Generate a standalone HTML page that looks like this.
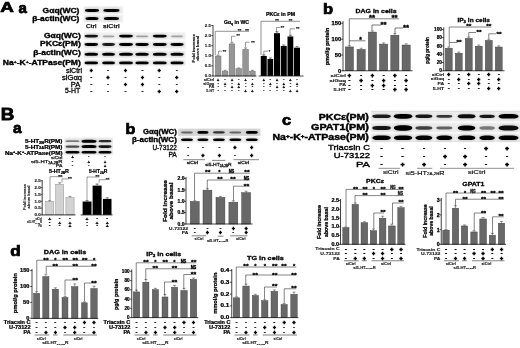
<!DOCTYPE html>
<html lang="en"><head><meta charset="utf-8"><title>Figure</title>
<style>html,body{margin:0;padding:0;background:#fff;overflow:hidden}svg{display:block}text{font-family:"Liberation Sans", sans-serif}</style>
</head><body>
<svg width="520" height="348" viewBox="0 0 520 348" style="font-family:'Liberation Sans', sans-serif">
<defs><filter id="bl" x="-20%" y="-60%" width="140%" height="220%"><feGaussianBlur stdDeviation="0.55"/></filter><filter id="bl2" x="-20%" y="-80%" width="140%" height="260%"><feGaussianBlur stdDeviation="0.9"/></filter><filter id="soft" x="0" y="0" width="100%" height="100%"><feGaussianBlur stdDeviation="0.5"/></filter></defs>
<rect x="0" y="0" width="520" height="348" fill="#fff"/>
<g filter="url(#soft)">
<text x="0.3" y="12.4" font-size="14.8" font-weight="bold" text-anchor="start" fill="#000" stroke="#000" stroke-width="0.74" textLength="13.6" lengthAdjust="spacingAndGlyphs">A</text>
<text x="18.4" y="13.2" font-size="15" font-weight="bold" text-anchor="start" fill="#000" stroke="#000" stroke-width="0.75">a</text>
<rect x="83.80" y="6.20" width="39.40" height="16.20" fill="#efefef"/>
<rect x="83.80" y="13.40" width="39.40" height="2.00" fill="#f9f9f9"/>
<text x="79.4" y="13.0" font-size="6.4" font-weight="bold" text-anchor="end" fill="#000" stroke="#000" stroke-width="0.32" textLength="36.8" lengthAdjust="spacingAndGlyphs">Gαq(WC)</text>
<text x="79.4" y="21.2" font-size="6.4" font-weight="bold" text-anchor="end" fill="#000" stroke="#000" stroke-width="0.32" textLength="47.2" lengthAdjust="spacingAndGlyphs">β-actin(WC)</text>
<rect x="84.40" y="8.30" width="15.20" height="4.30" rx="4.06" ry="2.15" fill="#444" opacity="0.22" filter="url(#bl2)"/>
<rect x="85.00" y="9.00" width="14.00" height="2.90" rx="3.77" ry="1.45" fill="#050505" opacity="1.0" filter="url(#bl)"/>
<rect x="84.90" y="16.30" width="14.20" height="4.40" rx="4.20" ry="2.20" fill="#444" opacity="0.22" filter="url(#bl2)"/>
<rect x="85.50" y="17.00" width="13.00" height="3.00" rx="3.90" ry="1.50" fill="#050505" opacity="1.0" filter="url(#bl)"/>
<rect x="102.80" y="8.30" width="17.30" height="4.30" rx="4.06" ry="2.15" fill="#444" opacity="0.22" filter="url(#bl2)"/>
<rect x="103.40" y="9.00" width="16.10" height="2.90" rx="3.77" ry="1.45" fill="#050505" opacity="1.0" filter="url(#bl)"/>
<rect x="103.30" y="16.30" width="16.30" height="4.40" rx="4.20" ry="2.20" fill="#444" opacity="0.22" filter="url(#bl2)"/>
<rect x="103.90" y="17.00" width="15.10" height="3.00" rx="3.90" ry="1.50" fill="#050505" opacity="1.0" filter="url(#bl)"/>
<text x="91.2" y="27.6" font-size="5.8" text-anchor="middle" fill="#000" stroke="#000" stroke-width="0.25" textLength="10.5" lengthAdjust="spacingAndGlyphs">Ctrl</text>
<text x="111.3" y="27.6" font-size="5.8" text-anchor="middle" fill="#000" stroke="#000" stroke-width="0.25" textLength="16.5" lengthAdjust="spacingAndGlyphs">siCtrl</text>
<rect x="83.80" y="32.40" width="101.80" height="33.00" fill="#f1f1f1"/>
<rect x="83.80" y="39.40" width="101.80" height="2.40" fill="#fafafa"/>
<rect x="83.80" y="48.40" width="101.80" height="2.40" fill="#fafafa"/>
<rect x="83.80" y="57.80" width="101.80" height="2.40" fill="#fafafa"/>
<rect x="84.00" y="34.10" width="14.60" height="4.00" rx="3.64" ry="2.00" fill="#444" opacity="0.20" filter="url(#bl2)"/>
<rect x="84.60" y="34.80" width="13.40" height="2.60" rx="3.38" ry="1.30" fill="#050505" opacity="0.9" filter="url(#bl)"/>
<rect x="84.00" y="42.40" width="14.60" height="4.20" rx="3.92" ry="2.10" fill="#444" opacity="0.22" filter="url(#bl2)"/>
<rect x="84.60" y="43.10" width="13.40" height="2.80" rx="3.64" ry="1.40" fill="#050505" opacity="1" filter="url(#bl)"/>
<rect x="84.00" y="52.10" width="14.60" height="4.40" rx="4.20" ry="2.20" fill="#444" opacity="0.22" filter="url(#bl2)"/>
<rect x="84.60" y="52.80" width="13.40" height="3.00" rx="3.90" ry="1.50" fill="#050505" opacity="1.0" filter="url(#bl)"/>
<rect x="84.00" y="60.90" width="14.60" height="4.00" rx="3.64" ry="2.00" fill="#444" opacity="0.22" filter="url(#bl2)"/>
<rect x="84.60" y="61.60" width="13.40" height="2.60" rx="3.38" ry="1.30" fill="#050505" opacity="1.0" filter="url(#bl)"/>
<rect x="102.10" y="34.90" width="12.90" height="3.00" rx="2.24" ry="1.50" fill="#444" opacity="0.07" filter="url(#bl2)"/>
<rect x="102.70" y="35.60" width="11.70" height="1.60" rx="2.08" ry="0.80" fill="#050505" opacity="0.3" filter="url(#bl)"/>
<rect x="101.60" y="42.40" width="13.90" height="4.20" rx="3.92" ry="2.10" fill="#444" opacity="0.19" filter="url(#bl2)"/>
<rect x="102.20" y="43.10" width="12.70" height="2.80" rx="3.64" ry="1.40" fill="#050505" opacity="0.85" filter="url(#bl)"/>
<rect x="101.60" y="52.10" width="13.90" height="4.40" rx="4.20" ry="2.20" fill="#444" opacity="0.22" filter="url(#bl2)"/>
<rect x="102.20" y="52.80" width="12.70" height="3.00" rx="3.90" ry="1.50" fill="#050505" opacity="1.0" filter="url(#bl)"/>
<rect x="101.60" y="60.90" width="13.90" height="4.00" rx="3.64" ry="2.00" fill="#444" opacity="0.22" filter="url(#bl2)"/>
<rect x="102.20" y="61.60" width="12.70" height="2.60" rx="3.38" ry="1.30" fill="#050505" opacity="1.0" filter="url(#bl)"/>
<rect x="118.50" y="34.10" width="15.00" height="4.00" rx="3.64" ry="2.00" fill="#444" opacity="0.22" filter="url(#bl2)"/>
<rect x="119.10" y="34.80" width="13.80" height="2.60" rx="3.38" ry="1.30" fill="#050505" opacity="1.0" filter="url(#bl)"/>
<rect x="118.50" y="42.40" width="15.00" height="4.20" rx="3.92" ry="2.10" fill="#444" opacity="0.22" filter="url(#bl2)"/>
<rect x="119.10" y="43.10" width="13.80" height="2.80" rx="3.64" ry="1.40" fill="#050505" opacity="1" filter="url(#bl)"/>
<rect x="118.50" y="52.10" width="15.00" height="4.40" rx="4.20" ry="2.20" fill="#444" opacity="0.22" filter="url(#bl2)"/>
<rect x="119.10" y="52.80" width="13.80" height="3.00" rx="3.90" ry="1.50" fill="#050505" opacity="1.0" filter="url(#bl)"/>
<rect x="118.50" y="60.90" width="15.00" height="4.00" rx="3.64" ry="2.00" fill="#444" opacity="0.22" filter="url(#bl2)"/>
<rect x="119.10" y="61.60" width="13.80" height="2.60" rx="3.38" ry="1.30" fill="#050505" opacity="1.0" filter="url(#bl)"/>
<rect x="135.30" y="34.90" width="13.50" height="3.00" rx="2.24" ry="1.50" fill="#444" opacity="0.07" filter="url(#bl2)"/>
<rect x="135.90" y="35.60" width="12.30" height="1.60" rx="2.08" ry="0.80" fill="#050505" opacity="0.3" filter="url(#bl)"/>
<rect x="134.80" y="42.40" width="14.50" height="4.20" rx="3.92" ry="2.10" fill="#444" opacity="0.22" filter="url(#bl2)"/>
<rect x="135.40" y="43.10" width="13.30" height="2.80" rx="3.64" ry="1.40" fill="#050505" opacity="1" filter="url(#bl)"/>
<rect x="134.80" y="52.10" width="14.50" height="4.40" rx="4.20" ry="2.20" fill="#444" opacity="0.22" filter="url(#bl2)"/>
<rect x="135.40" y="52.80" width="13.30" height="3.00" rx="3.90" ry="1.50" fill="#050505" opacity="1.0" filter="url(#bl)"/>
<rect x="134.80" y="60.90" width="14.50" height="4.00" rx="3.64" ry="2.00" fill="#444" opacity="0.22" filter="url(#bl2)"/>
<rect x="135.40" y="61.60" width="13.30" height="2.60" rx="3.38" ry="1.30" fill="#050505" opacity="1.0" filter="url(#bl)"/>
<rect x="152.30" y="34.10" width="15.00" height="4.00" rx="3.64" ry="2.00" fill="#444" opacity="0.22" filter="url(#bl2)"/>
<rect x="152.90" y="34.80" width="13.80" height="2.60" rx="3.38" ry="1.30" fill="#050505" opacity="1.0" filter="url(#bl)"/>
<rect x="152.30" y="42.40" width="15.00" height="4.20" rx="3.92" ry="2.10" fill="#444" opacity="0.22" filter="url(#bl2)"/>
<rect x="152.90" y="43.10" width="13.80" height="2.80" rx="3.64" ry="1.40" fill="#050505" opacity="1" filter="url(#bl)"/>
<rect x="152.30" y="52.10" width="15.00" height="4.40" rx="4.20" ry="2.20" fill="#444" opacity="0.22" filter="url(#bl2)"/>
<rect x="152.90" y="52.80" width="13.80" height="3.00" rx="3.90" ry="1.50" fill="#050505" opacity="1.0" filter="url(#bl)"/>
<rect x="152.30" y="60.90" width="15.00" height="4.00" rx="3.64" ry="2.00" fill="#444" opacity="0.22" filter="url(#bl2)"/>
<rect x="152.90" y="61.60" width="13.80" height="2.60" rx="3.38" ry="1.30" fill="#050505" opacity="1.0" filter="url(#bl)"/>
<rect x="170.40" y="34.90" width="13.30" height="3.00" rx="2.24" ry="1.50" fill="#444" opacity="0.07" filter="url(#bl2)"/>
<rect x="171.00" y="35.60" width="12.10" height="1.60" rx="2.08" ry="0.80" fill="#050505" opacity="0.3" filter="url(#bl)"/>
<rect x="169.90" y="42.40" width="14.30" height="4.20" rx="3.92" ry="2.10" fill="#444" opacity="0.22" filter="url(#bl2)"/>
<rect x="170.50" y="43.10" width="13.10" height="2.80" rx="3.64" ry="1.40" fill="#050505" opacity="1" filter="url(#bl)"/>
<rect x="169.90" y="52.10" width="14.30" height="4.40" rx="4.20" ry="2.20" fill="#444" opacity="0.22" filter="url(#bl2)"/>
<rect x="170.50" y="52.80" width="13.10" height="3.00" rx="3.90" ry="1.50" fill="#050505" opacity="1.0" filter="url(#bl)"/>
<rect x="169.90" y="60.90" width="14.30" height="4.00" rx="3.64" ry="2.00" fill="#444" opacity="0.22" filter="url(#bl2)"/>
<rect x="170.50" y="61.60" width="13.10" height="2.60" rx="3.38" ry="1.30" fill="#050505" opacity="1.0" filter="url(#bl)"/>
<text x="80.8" y="37.7" font-size="6.4" font-weight="bold" text-anchor="end" fill="#000" stroke="#000" stroke-width="0.32" textLength="36.8" lengthAdjust="spacingAndGlyphs">Gαq(WC)</text>
<text x="80.8" y="46.4" font-size="6.4" font-weight="bold" text-anchor="end" fill="#000" stroke="#000" stroke-width="0.32" textLength="40.8" lengthAdjust="spacingAndGlyphs">PKCε(PM)</text>
<text x="80.8" y="55.2" font-size="6.4" font-weight="bold" text-anchor="end" fill="#000" stroke="#000" stroke-width="0.32" textLength="47.6" lengthAdjust="spacingAndGlyphs">β-actin(WC)</text>
<text x="80.8" y="64.6" font-size="6.4" font-weight="bold" text-anchor="end" fill="#000" stroke="#000" stroke-width="0.32" textLength="78" lengthAdjust="spacingAndGlyphs">Na<tspan font-size="60%" dy="-0.45em">+</tspan><tspan dy="0.27em">-K</tspan><tspan font-size="60%" dy="-0.45em">+</tspan><tspan dy="0.27em">-ATPase(PM)</tspan></text>
<text x="82" y="72.9" font-size="6.6" text-anchor="end" fill="#000" stroke="#000" stroke-width="0.28" textLength="16" lengthAdjust="spacingAndGlyphs">siCtrl</text>
<text x="91.25" y="72.25" font-size="5.0" font-weight="bold" text-anchor="middle" fill="#000" stroke="#000" stroke-width="0.70">+</text>
<text x="108" y="72.25" font-size="6.2" font-weight="bold" text-anchor="middle" fill="#000" stroke="#000" stroke-width="0.19">-</text>
<text x="125.5" y="72.25" font-size="5.0" font-weight="bold" text-anchor="middle" fill="#000" stroke="#000" stroke-width="0.70">+</text>
<text x="142.5" y="72.25" font-size="6.2" font-weight="bold" text-anchor="middle" fill="#000" stroke="#000" stroke-width="0.19">-</text>
<text x="159.25" y="72.25" font-size="5.0" font-weight="bold" text-anchor="middle" fill="#000" stroke="#000" stroke-width="0.70">+</text>
<text x="176.75" y="72.25" font-size="6.2" font-weight="bold" text-anchor="middle" fill="#000" stroke="#000" stroke-width="0.19">-</text>
<text x="82" y="79.60000000000001" font-size="6.6" text-anchor="end" fill="#000" stroke="#000" stroke-width="0.28" textLength="20" lengthAdjust="spacingAndGlyphs">siGαq</text>
<text x="91.25" y="78.95" font-size="6.2" font-weight="bold" text-anchor="middle" fill="#000" stroke="#000" stroke-width="0.19">-</text>
<text x="108" y="78.95" font-size="5.0" font-weight="bold" text-anchor="middle" fill="#000" stroke="#000" stroke-width="0.70">+</text>
<text x="125.5" y="78.95" font-size="6.2" font-weight="bold" text-anchor="middle" fill="#000" stroke="#000" stroke-width="0.19">-</text>
<text x="142.5" y="78.95" font-size="5.0" font-weight="bold" text-anchor="middle" fill="#000" stroke="#000" stroke-width="0.70">+</text>
<text x="159.25" y="78.95" font-size="6.2" font-weight="bold" text-anchor="middle" fill="#000" stroke="#000" stroke-width="0.19">-</text>
<text x="176.75" y="78.95" font-size="5.0" font-weight="bold" text-anchor="middle" fill="#000" stroke="#000" stroke-width="0.70">+</text>
<text x="80.2" y="86.5" font-size="6.6" text-anchor="end" fill="#000" stroke="#000" stroke-width="0.28" textLength="9.5" lengthAdjust="spacingAndGlyphs">PA</text>
<text x="91.25" y="85.85" font-size="6.2" font-weight="bold" text-anchor="middle" fill="#000" stroke="#000" stroke-width="0.19">-</text>
<text x="108" y="85.85" font-size="6.2" font-weight="bold" text-anchor="middle" fill="#000" stroke="#000" stroke-width="0.19">-</text>
<text x="125.5" y="85.85" font-size="5.0" font-weight="bold" text-anchor="middle" fill="#000" stroke="#000" stroke-width="0.70">+</text>
<text x="142.5" y="85.85" font-size="5.0" font-weight="bold" text-anchor="middle" fill="#000" stroke="#000" stroke-width="0.70">+</text>
<text x="159.25" y="85.85" font-size="6.2" font-weight="bold" text-anchor="middle" fill="#000" stroke="#000" stroke-width="0.19">-</text>
<text x="176.75" y="85.85" font-size="6.2" font-weight="bold" text-anchor="middle" fill="#000" stroke="#000" stroke-width="0.19">-</text>
<text x="80.2" y="93.4" font-size="6.6" text-anchor="end" fill="#000" stroke="#000" stroke-width="0.28" textLength="15.3" lengthAdjust="spacingAndGlyphs">5-HT</text>
<text x="91.25" y="92.75" font-size="6.2" font-weight="bold" text-anchor="middle" fill="#000" stroke="#000" stroke-width="0.19">-</text>
<text x="108" y="92.75" font-size="6.2" font-weight="bold" text-anchor="middle" fill="#000" stroke="#000" stroke-width="0.19">-</text>
<text x="125.5" y="92.75" font-size="6.2" font-weight="bold" text-anchor="middle" fill="#000" stroke="#000" stroke-width="0.19">-</text>
<text x="142.5" y="92.75" font-size="6.2" font-weight="bold" text-anchor="middle" fill="#000" stroke="#000" stroke-width="0.19">-</text>
<text x="159.25" y="92.75" font-size="5.0" font-weight="bold" text-anchor="middle" fill="#000" stroke="#000" stroke-width="0.70">+</text>
<text x="176.75" y="92.75" font-size="5.0" font-weight="bold" text-anchor="middle" fill="#000" stroke="#000" stroke-width="0.70">+</text>
<rect x="215.30" y="56.00" width="5.70" height="20.00" fill="#969696" stroke="#6a6a6a" stroke-width="0.45"/>
<line x1="218.15" y1="55.8" x2="218.15" y2="55.0" stroke="#333" stroke-width="0.5"/>
<line x1="216.65" y1="55.0" x2="219.65" y2="55.0" stroke="#333" stroke-width="0.5"/>
<rect x="222.20" y="71.15" width="5.70" height="4.85" fill="#969696" stroke="#6a6a6a" stroke-width="0.45"/>
<line x1="225.05" y1="70.95" x2="225.05" y2="70.35000000000001" stroke="#333" stroke-width="0.5"/>
<line x1="223.55" y1="70.35000000000001" x2="226.55" y2="70.35000000000001" stroke="#333" stroke-width="0.5"/>
<rect x="229.10" y="43.88" width="5.70" height="32.12" fill="#969696" stroke="#6a6a6a" stroke-width="0.45"/>
<line x1="231.95" y1="43.68" x2="231.95" y2="42.28" stroke="#333" stroke-width="0.5"/>
<line x1="230.45" y1="42.28" x2="233.45" y2="42.28" stroke="#333" stroke-width="0.5"/>
<rect x="235.90" y="68.73" width="5.70" height="7.27" fill="#969696" stroke="#6a6a6a" stroke-width="0.45"/>
<line x1="238.75" y1="68.526" x2="238.75" y2="67.926" stroke="#333" stroke-width="0.5"/>
<line x1="237.25" y1="67.926" x2="240.25" y2="67.926" stroke="#333" stroke-width="0.5"/>
<rect x="242.80" y="49.33" width="5.70" height="26.67" fill="#969696" stroke="#6a6a6a" stroke-width="0.45"/>
<line x1="245.65" y1="49.134" x2="245.65" y2="47.934" stroke="#333" stroke-width="0.5"/>
<line x1="244.15" y1="47.934" x2="247.15" y2="47.934" stroke="#333" stroke-width="0.5"/>
<rect x="249.60" y="71.15" width="5.60" height="4.85" fill="#969696" stroke="#6a6a6a" stroke-width="0.45"/>
<line x1="252.4" y1="70.95" x2="252.4" y2="70.35000000000001" stroke="#333" stroke-width="0.5"/>
<line x1="250.9" y1="70.35000000000001" x2="253.9" y2="70.35000000000001" stroke="#333" stroke-width="0.5"/>
<line x1="213" y1="25" x2="213" y2="76.3" stroke="#111" stroke-width="0.8"/>
<line x1="211.2" y1="25.5" x2="213" y2="25.5" stroke="#111" stroke-width="0.7"/>
<text x="210.8" y="26.868" font-size="3.8" font-weight="bold" text-anchor="end" fill="#1c1c1c" stroke="#1c1c1c" stroke-width="0.13" textLength="6.0" lengthAdjust="spacingAndGlyphs">2.5</text>
<line x1="211.2" y1="35.6" x2="213" y2="35.6" stroke="#111" stroke-width="0.7"/>
<text x="210.8" y="36.968" font-size="3.8" font-weight="bold" text-anchor="end" fill="#1c1c1c" stroke="#1c1c1c" stroke-width="0.13" textLength="6.0" lengthAdjust="spacingAndGlyphs">2.0</text>
<line x1="211.2" y1="45.7" x2="213" y2="45.7" stroke="#111" stroke-width="0.7"/>
<text x="210.8" y="47.068000000000005" font-size="3.8" font-weight="bold" text-anchor="end" fill="#1c1c1c" stroke="#1c1c1c" stroke-width="0.13" textLength="6.0" lengthAdjust="spacingAndGlyphs">1.5</text>
<line x1="211.2" y1="55.8" x2="213" y2="55.8" stroke="#111" stroke-width="0.7"/>
<text x="210.8" y="57.168" font-size="3.8" font-weight="bold" text-anchor="end" fill="#1c1c1c" stroke="#1c1c1c" stroke-width="0.13" textLength="6.0" lengthAdjust="spacingAndGlyphs">1.0</text>
<line x1="211.2" y1="65.9" x2="213" y2="65.9" stroke="#111" stroke-width="0.7"/>
<text x="210.8" y="67.268" font-size="3.8" font-weight="bold" text-anchor="end" fill="#1c1c1c" stroke="#1c1c1c" stroke-width="0.13" textLength="6.0" lengthAdjust="spacingAndGlyphs">0.5</text>
<line x1="211.2" y1="76" x2="213" y2="76" stroke="#111" stroke-width="0.7"/>
<text x="210.8" y="77.368" font-size="3.8" font-weight="bold" text-anchor="end" fill="#1c1c1c" stroke="#1c1c1c" stroke-width="0.13" textLength="6.0" lengthAdjust="spacingAndGlyphs">0.0</text>
<line x1="212.6" y1="76.0" x2="256.5" y2="76.0" stroke="#111" stroke-width="0.8"/>
<text x="236.5" y="24.3" font-size="4.6" font-weight="bold" text-anchor="middle" fill="#000" stroke="#000" stroke-width="0.23" textLength="25" lengthAdjust="spacingAndGlyphs">Gα<tspan font-size="65%" dy="0.25em">q</tspan><tspan dy="-0.16em"> in WC</tspan></text>
<text x="195.4" y="48.3" font-size="4.2" font-weight="bold" text-anchor="middle" fill="#1c1c1c" stroke="#1c1c1c" stroke-width="0.15" textLength="28.5" lengthAdjust="spacingAndGlyphs" transform="rotate(-90 195.4 48.3)">Fold increase</text>
<text x="199.4" y="48.3" font-size="4.2" font-weight="bold" text-anchor="middle" fill="#1c1c1c" stroke="#1c1c1c" stroke-width="0.15" textLength="25" lengthAdjust="spacingAndGlyphs" transform="rotate(-90 199.4 48.3)">above basal</text>
<polyline points="215.2,55 215.2,31.3 249,31.3" fill="none" stroke="#222" stroke-width="0.5"/>
<text x="239.5" y="32.0572" font-size="3.96" font-weight="bold" text-anchor="middle" fill="#1c1c1c" stroke="#1c1c1c" stroke-width="0.20" textLength="3.6432" lengthAdjust="spacingAndGlyphs">**</text>
<text x="247" y="32.0572" font-size="3.96" font-weight="bold" text-anchor="middle" fill="#1c1c1c" stroke="#1c1c1c" stroke-width="0.20" textLength="3.6432" lengthAdjust="spacingAndGlyphs">**</text>
<polyline points="218.5,54 218.5,51.2 222,51.2" fill="none" stroke="#222" stroke-width="0.45"/>
<text x="224.5" y="52.706720000000004" font-size="3.6959999999999997" font-weight="bold" text-anchor="middle" fill="#1c1c1c" stroke="#1c1c1c" stroke-width="0.18" textLength="3.40032" lengthAdjust="spacingAndGlyphs">**</text>
<polyline points="231.5,41.5 231.5,36.3 235.5,36.3" fill="none" stroke="#222" stroke-width="0.45"/>
<text x="238.2" y="37.306720000000006" font-size="3.6959999999999997" font-weight="bold" text-anchor="middle" fill="#1c1c1c" stroke="#1c1c1c" stroke-width="0.18" textLength="3.40032" lengthAdjust="spacingAndGlyphs">**</text>
<polyline points="245.5,47.2 245.5,42.2 249.5,42.2" fill="none" stroke="#222" stroke-width="0.45"/>
<text x="253" y="43.50672" font-size="3.6959999999999997" font-weight="bold" text-anchor="middle" fill="#1c1c1c" stroke="#1c1c1c" stroke-width="0.18" textLength="3.40032" lengthAdjust="spacingAndGlyphs">**</text>
<text x="214.2" y="80.8" font-size="3.4" font-weight="bold" text-anchor="end" fill="#1c1c1c" stroke="#1c1c1c" stroke-width="0.12" textLength="10.5" lengthAdjust="spacingAndGlyphs">siCtrl</text>
<text x="218.15" y="80.82375" font-size="3.625" font-weight="bold" text-anchor="middle" fill="#1c1c1c" stroke="#1c1c1c" stroke-width="0.51">+</text>
<text x="225.05" y="80.82375" font-size="4.495" font-weight="bold" text-anchor="middle" fill="#1c1c1c" stroke="#1c1c1c" stroke-width="0.13">-</text>
<text x="231.95" y="80.82375" font-size="3.625" font-weight="bold" text-anchor="middle" fill="#1c1c1c" stroke="#1c1c1c" stroke-width="0.51">+</text>
<text x="238.75" y="80.82375" font-size="4.495" font-weight="bold" text-anchor="middle" fill="#1c1c1c" stroke="#1c1c1c" stroke-width="0.13">-</text>
<text x="245.65" y="80.82375" font-size="3.625" font-weight="bold" text-anchor="middle" fill="#1c1c1c" stroke="#1c1c1c" stroke-width="0.51">+</text>
<text x="252.4" y="80.82375" font-size="4.495" font-weight="bold" text-anchor="middle" fill="#1c1c1c" stroke="#1c1c1c" stroke-width="0.13">-</text>
<text x="214.2" y="84.6" font-size="3.4" font-weight="bold" text-anchor="end" fill="#1c1c1c" stroke="#1c1c1c" stroke-width="0.12" textLength="11" lengthAdjust="spacingAndGlyphs">siGαq</text>
<text x="218.15" y="84.62375" font-size="4.495" font-weight="bold" text-anchor="middle" fill="#1c1c1c" stroke="#1c1c1c" stroke-width="0.13">-</text>
<text x="225.05" y="84.62375" font-size="3.625" font-weight="bold" text-anchor="middle" fill="#1c1c1c" stroke="#1c1c1c" stroke-width="0.51">+</text>
<text x="231.95" y="84.62375" font-size="4.495" font-weight="bold" text-anchor="middle" fill="#1c1c1c" stroke="#1c1c1c" stroke-width="0.13">-</text>
<text x="238.75" y="84.62375" font-size="3.625" font-weight="bold" text-anchor="middle" fill="#1c1c1c" stroke="#1c1c1c" stroke-width="0.51">+</text>
<text x="245.65" y="84.62375" font-size="4.495" font-weight="bold" text-anchor="middle" fill="#1c1c1c" stroke="#1c1c1c" stroke-width="0.13">-</text>
<text x="252.4" y="84.62375" font-size="3.625" font-weight="bold" text-anchor="middle" fill="#1c1c1c" stroke="#1c1c1c" stroke-width="0.51">+</text>
<text x="214.2" y="88.3" font-size="3.4" font-weight="bold" text-anchor="end" fill="#1c1c1c" stroke="#1c1c1c" stroke-width="0.12" textLength="5.4" lengthAdjust="spacingAndGlyphs">PA</text>
<text x="218.15" y="88.32375" font-size="4.495" font-weight="bold" text-anchor="middle" fill="#1c1c1c" stroke="#1c1c1c" stroke-width="0.13">-</text>
<text x="225.05" y="88.32375" font-size="4.495" font-weight="bold" text-anchor="middle" fill="#1c1c1c" stroke="#1c1c1c" stroke-width="0.13">-</text>
<text x="231.95" y="88.32375" font-size="3.625" font-weight="bold" text-anchor="middle" fill="#1c1c1c" stroke="#1c1c1c" stroke-width="0.51">+</text>
<text x="238.75" y="88.32375" font-size="3.625" font-weight="bold" text-anchor="middle" fill="#1c1c1c" stroke="#1c1c1c" stroke-width="0.51">+</text>
<text x="245.65" y="88.32375" font-size="4.495" font-weight="bold" text-anchor="middle" fill="#1c1c1c" stroke="#1c1c1c" stroke-width="0.13">-</text>
<text x="252.4" y="88.32375" font-size="4.495" font-weight="bold" text-anchor="middle" fill="#1c1c1c" stroke="#1c1c1c" stroke-width="0.13">-</text>
<text x="214.2" y="92.0" font-size="3.4" font-weight="bold" text-anchor="end" fill="#1c1c1c" stroke="#1c1c1c" stroke-width="0.12" textLength="8" lengthAdjust="spacingAndGlyphs">5-HT</text>
<text x="218.15" y="92.02375" font-size="4.495" font-weight="bold" text-anchor="middle" fill="#1c1c1c" stroke="#1c1c1c" stroke-width="0.13">-</text>
<text x="225.05" y="92.02375" font-size="4.495" font-weight="bold" text-anchor="middle" fill="#1c1c1c" stroke="#1c1c1c" stroke-width="0.13">-</text>
<text x="231.95" y="92.02375" font-size="4.495" font-weight="bold" text-anchor="middle" fill="#1c1c1c" stroke="#1c1c1c" stroke-width="0.13">-</text>
<text x="238.75" y="92.02375" font-size="4.495" font-weight="bold" text-anchor="middle" fill="#1c1c1c" stroke="#1c1c1c" stroke-width="0.13">-</text>
<text x="245.65" y="92.02375" font-size="3.625" font-weight="bold" text-anchor="middle" fill="#1c1c1c" stroke="#1c1c1c" stroke-width="0.51">+</text>
<text x="252.4" y="92.02375" font-size="3.625" font-weight="bold" text-anchor="middle" fill="#1c1c1c" stroke="#1c1c1c" stroke-width="0.51">+</text>
<rect x="260.75" y="55.95" width="6.00" height="20.05" fill="#000"/>
<line x1="263.75" y1="55.75" x2="263.75" y2="54.95" stroke="#000" stroke-width="0.5"/>
<line x1="262.25" y1="54.95" x2="265.25" y2="54.95" stroke="#000" stroke-width="0.5"/>
<rect x="267.50" y="58.95" width="5.70" height="17.05" fill="#000"/>
<line x1="270.35" y1="58.75" x2="270.35" y2="57.95" stroke="#000" stroke-width="0.5"/>
<line x1="268.85" y1="57.95" x2="271.85" y2="57.95" stroke="#000" stroke-width="0.5"/>
<rect x="274.00" y="33.20" width="6.00" height="42.80" fill="#000"/>
<line x1="277.0" y1="33" x2="277.0" y2="31.8" stroke="#000" stroke-width="0.5"/>
<line x1="275.5" y1="31.8" x2="278.5" y2="31.8" stroke="#000" stroke-width="0.5"/>
<rect x="280.75" y="45.95" width="6.00" height="30.05" fill="#000"/>
<line x1="283.75" y1="45.75" x2="283.75" y2="44.95" stroke="#000" stroke-width="0.5"/>
<line x1="282.25" y1="44.95" x2="285.25" y2="44.95" stroke="#000" stroke-width="0.5"/>
<rect x="287.50" y="36.45" width="5.80" height="39.55" fill="#000"/>
<line x1="290.4" y1="36.25" x2="290.4" y2="35.25" stroke="#000" stroke-width="0.5"/>
<line x1="288.9" y1="35.25" x2="291.9" y2="35.25" stroke="#000" stroke-width="0.5"/>
<rect x="294.00" y="47.70" width="6.00" height="28.30" fill="#000"/>
<line x1="297.0" y1="47.5" x2="297.0" y2="46.7" stroke="#000" stroke-width="0.5"/>
<line x1="295.5" y1="46.7" x2="298.5" y2="46.7" stroke="#000" stroke-width="0.5"/>
<line x1="258.6" y1="76.0" x2="303.5" y2="76.0" stroke="#111" stroke-width="0.8"/>
<text x="280.5" y="16.4" font-size="4.8" font-weight="bold" text-anchor="middle" fill="#000" stroke="#000" stroke-width="0.24" textLength="29" lengthAdjust="spacingAndGlyphs">PKCε in PM</text>
<polyline points="261,55 261,21.3 300,21.3" fill="none" stroke="#222" stroke-width="0.5"/>
<text x="277" y="22.0572" font-size="3.96" font-weight="bold" text-anchor="middle" fill="#1c1c1c" stroke="#1c1c1c" stroke-width="0.20" textLength="3.6432" lengthAdjust="spacingAndGlyphs">**</text>
<text x="290.6" y="22.0572" font-size="3.96" font-weight="bold" text-anchor="middle" fill="#1c1c1c" stroke="#1c1c1c" stroke-width="0.20" textLength="3.6432" lengthAdjust="spacingAndGlyphs">**</text>
<polyline points="263.8,55 263.8,51.2 268,51.2" fill="none" stroke="#222" stroke-width="0.45"/>
<text x="269.5" y="52.50672" font-size="3.6959999999999997" font-weight="bold" text-anchor="middle" fill="#1c1c1c" stroke="#1c1c1c" stroke-width="0.18">*</text>
<polyline points="276.5,32 276.5,27.5 280.5,27.5" fill="none" stroke="#222" stroke-width="0.45"/>
<text x="282.5" y="28.506719999999998" font-size="3.6959999999999997" font-weight="bold" text-anchor="middle" fill="#1c1c1c" stroke="#1c1c1c" stroke-width="0.18" textLength="3.40032" lengthAdjust="spacingAndGlyphs">**</text>
<polyline points="290,35 290,28.8 295,28.8" fill="none" stroke="#222" stroke-width="0.45"/>
<text x="297.8" y="30.10672" font-size="3.6959999999999997" font-weight="bold" text-anchor="middle" fill="#1c1c1c" stroke="#1c1c1c" stroke-width="0.18" textLength="3.40032" lengthAdjust="spacingAndGlyphs">**</text>
<text x="263.75" y="80.82375" font-size="3.625" font-weight="bold" text-anchor="middle" fill="#1c1c1c" stroke="#1c1c1c" stroke-width="0.51">+</text>
<text x="270.35" y="80.82375" font-size="4.495" font-weight="bold" text-anchor="middle" fill="#1c1c1c" stroke="#1c1c1c" stroke-width="0.13">-</text>
<text x="277.0" y="80.82375" font-size="3.625" font-weight="bold" text-anchor="middle" fill="#1c1c1c" stroke="#1c1c1c" stroke-width="0.51">+</text>
<text x="283.75" y="80.82375" font-size="4.495" font-weight="bold" text-anchor="middle" fill="#1c1c1c" stroke="#1c1c1c" stroke-width="0.13">-</text>
<text x="290.4" y="80.82375" font-size="3.625" font-weight="bold" text-anchor="middle" fill="#1c1c1c" stroke="#1c1c1c" stroke-width="0.51">+</text>
<text x="297.0" y="80.82375" font-size="4.495" font-weight="bold" text-anchor="middle" fill="#1c1c1c" stroke="#1c1c1c" stroke-width="0.13">-</text>
<text x="263.75" y="84.62375" font-size="4.495" font-weight="bold" text-anchor="middle" fill="#1c1c1c" stroke="#1c1c1c" stroke-width="0.13">-</text>
<text x="270.35" y="84.62375" font-size="3.625" font-weight="bold" text-anchor="middle" fill="#1c1c1c" stroke="#1c1c1c" stroke-width="0.51">+</text>
<text x="277.0" y="84.62375" font-size="4.495" font-weight="bold" text-anchor="middle" fill="#1c1c1c" stroke="#1c1c1c" stroke-width="0.13">-</text>
<text x="283.75" y="84.62375" font-size="3.625" font-weight="bold" text-anchor="middle" fill="#1c1c1c" stroke="#1c1c1c" stroke-width="0.51">+</text>
<text x="290.4" y="84.62375" font-size="4.495" font-weight="bold" text-anchor="middle" fill="#1c1c1c" stroke="#1c1c1c" stroke-width="0.13">-</text>
<text x="297.0" y="84.62375" font-size="3.625" font-weight="bold" text-anchor="middle" fill="#1c1c1c" stroke="#1c1c1c" stroke-width="0.51">+</text>
<text x="263.75" y="88.32375" font-size="4.495" font-weight="bold" text-anchor="middle" fill="#1c1c1c" stroke="#1c1c1c" stroke-width="0.13">-</text>
<text x="270.35" y="88.32375" font-size="4.495" font-weight="bold" text-anchor="middle" fill="#1c1c1c" stroke="#1c1c1c" stroke-width="0.13">-</text>
<text x="277.0" y="88.32375" font-size="3.625" font-weight="bold" text-anchor="middle" fill="#1c1c1c" stroke="#1c1c1c" stroke-width="0.51">+</text>
<text x="283.75" y="88.32375" font-size="3.625" font-weight="bold" text-anchor="middle" fill="#1c1c1c" stroke="#1c1c1c" stroke-width="0.51">+</text>
<text x="290.4" y="88.32375" font-size="4.495" font-weight="bold" text-anchor="middle" fill="#1c1c1c" stroke="#1c1c1c" stroke-width="0.13">-</text>
<text x="297.0" y="88.32375" font-size="4.495" font-weight="bold" text-anchor="middle" fill="#1c1c1c" stroke="#1c1c1c" stroke-width="0.13">-</text>
<text x="263.75" y="92.02375" font-size="4.495" font-weight="bold" text-anchor="middle" fill="#1c1c1c" stroke="#1c1c1c" stroke-width="0.13">-</text>
<text x="270.35" y="92.02375" font-size="4.495" font-weight="bold" text-anchor="middle" fill="#1c1c1c" stroke="#1c1c1c" stroke-width="0.13">-</text>
<text x="277.0" y="92.02375" font-size="4.495" font-weight="bold" text-anchor="middle" fill="#1c1c1c" stroke="#1c1c1c" stroke-width="0.13">-</text>
<text x="283.75" y="92.02375" font-size="4.495" font-weight="bold" text-anchor="middle" fill="#1c1c1c" stroke="#1c1c1c" stroke-width="0.13">-</text>
<text x="290.4" y="92.02375" font-size="3.625" font-weight="bold" text-anchor="middle" fill="#1c1c1c" stroke="#1c1c1c" stroke-width="0.51">+</text>
<text x="297.0" y="92.02375" font-size="3.625" font-weight="bold" text-anchor="middle" fill="#1c1c1c" stroke="#1c1c1c" stroke-width="0.51">+</text>
<text x="322.9" y="14.2" font-size="13.8" font-weight="bold" text-anchor="start" fill="#000" stroke="#000" stroke-width="0.69" textLength="10.1" lengthAdjust="spacingAndGlyphs">b</text>
<rect x="345.30" y="46.93" width="8.15" height="23.82" fill="#686868" stroke="#3c3c3c" stroke-width="0.45"/>
<line x1="349.375" y1="46.733999999999995" x2="349.375" y2="45.733999999999995" stroke="#333" stroke-width="0.5"/>
<line x1="347.875" y1="45.733999999999995" x2="350.875" y2="45.733999999999995" stroke="#333" stroke-width="0.5"/>
<rect x="357.05" y="49.46" width="8.15" height="21.29" fill="#686868" stroke="#3c3c3c" stroke-width="0.45"/>
<line x1="361.125" y1="49.262" x2="361.125" y2="48.262" stroke="#333" stroke-width="0.5"/>
<line x1="359.625" y1="48.262" x2="362.625" y2="48.262" stroke="#333" stroke-width="0.5"/>
<rect x="368.30" y="32.08" width="8.15" height="38.67" fill="#686868" stroke="#3c3c3c" stroke-width="0.45"/>
<line x1="372.375" y1="31.881999999999998" x2="372.375" y2="30.881999999999998" stroke="#333" stroke-width="0.5"/>
<line x1="370.875" y1="30.881999999999998" x2="373.875" y2="30.881999999999998" stroke="#333" stroke-width="0.5"/>
<rect x="379.55" y="44.09" width="8.15" height="26.66" fill="#686868" stroke="#3c3c3c" stroke-width="0.45"/>
<line x1="383.625" y1="43.89" x2="383.625" y2="42.89" stroke="#333" stroke-width="0.5"/>
<line x1="382.125" y1="42.89" x2="385.125" y2="42.89" stroke="#333" stroke-width="0.5"/>
<rect x="390.80" y="35.24" width="8.15" height="35.51" fill="#686868" stroke="#3c3c3c" stroke-width="0.45"/>
<line x1="394.875" y1="35.042" x2="394.875" y2="33.642" stroke="#333" stroke-width="0.5"/>
<line x1="393.375" y1="33.642" x2="396.375" y2="33.642" stroke="#333" stroke-width="0.5"/>
<rect x="402.05" y="45.04" width="8.15" height="25.71" fill="#686868" stroke="#3c3c3c" stroke-width="0.45"/>
<line x1="406.125" y1="44.838" x2="406.125" y2="43.838" stroke="#333" stroke-width="0.5"/>
<line x1="404.625" y1="43.838" x2="407.625" y2="43.838" stroke="#333" stroke-width="0.5"/>
<line x1="343" y1="21" x2="343" y2="71.05" stroke="#111" stroke-width="0.8"/>
<line x1="341.2" y1="23.3" x2="343" y2="23.3" stroke="#111" stroke-width="0.7"/>
<text x="341.2" y="25.064" font-size="4.9" font-weight="bold" text-anchor="end" fill="#000" stroke="#000" stroke-width="0.25" textLength="9.6" lengthAdjust="spacingAndGlyphs">150</text>
<line x1="341.2" y1="39.2" x2="343" y2="39.2" stroke="#111" stroke-width="0.7"/>
<text x="341.2" y="40.964000000000006" font-size="4.9" font-weight="bold" text-anchor="end" fill="#000" stroke="#000" stroke-width="0.25" textLength="9.6" lengthAdjust="spacingAndGlyphs">100</text>
<line x1="341.2" y1="55" x2="343" y2="55" stroke="#111" stroke-width="0.7"/>
<text x="341.2" y="56.764" font-size="4.9" font-weight="bold" text-anchor="end" fill="#000" stroke="#000" stroke-width="0.25" textLength="6.3999999999999995" lengthAdjust="spacingAndGlyphs">50</text>
<line x1="341.2" y1="70.75" x2="343" y2="70.75" stroke="#111" stroke-width="0.7"/>
<text x="341.2" y="72.514" font-size="4.9" font-weight="bold" text-anchor="end" fill="#000" stroke="#000" stroke-width="0.25" textLength="3.1999999999999997" lengthAdjust="spacingAndGlyphs">0</text>
<line x1="342.6" y1="70.75" x2="412.5" y2="70.75" stroke="#111" stroke-width="0.8"/>
<text x="376" y="13.1" font-size="5.9" font-weight="bold" text-anchor="middle" fill="#000" stroke="#000" stroke-width="0.30" textLength="41" lengthAdjust="spacingAndGlyphs">DAG in cells</text>
<text x="329.2" y="46.3" font-size="5.0" font-weight="bold" text-anchor="middle" fill="#000" stroke="#000" stroke-width="0.25" textLength="37.5" lengthAdjust="spacingAndGlyphs" transform="rotate(-90 329.2 46.3)">pmol/g protein</text>
<polyline points="349.3,45.5 349.3,18.8 398.8,18.8" fill="none" stroke="#222" stroke-width="0.6"/>
<text x="372" y="20.162" font-size="6.6000000000000005" font-weight="bold" text-anchor="middle" fill="#000" stroke="#000" stroke-width="0.33" textLength="6.072000000000001" lengthAdjust="spacingAndGlyphs">**</text>
<text x="394.5" y="20.162" font-size="6.6000000000000005" font-weight="bold" text-anchor="middle" fill="#000" stroke="#000" stroke-width="0.33" textLength="6.072000000000001" lengthAdjust="spacingAndGlyphs">**</text>
<polyline points="349.3,40.8 365.5,40.8" fill="none" stroke="#222" stroke-width="0.6"/>
<text x="360.5" y="41.962" font-size="6.6000000000000005" font-weight="bold" text-anchor="middle" fill="#000" stroke="#000" stroke-width="0.33">*</text>
<polyline points="372,30.2 372,25 381,25" fill="none" stroke="#222" stroke-width="0.6"/>
<text x="383.5" y="26.562" font-size="6.6000000000000005" font-weight="bold" text-anchor="middle" fill="#000" stroke="#000" stroke-width="0.33" textLength="6.072000000000001" lengthAdjust="spacingAndGlyphs">**</text>
<polyline points="395,33.8 395,28 403,28" fill="none" stroke="#222" stroke-width="0.6"/>
<text x="406" y="29.762" font-size="6.6000000000000005" font-weight="bold" text-anchor="middle" fill="#000" stroke="#000" stroke-width="0.33" textLength="6.072000000000001" lengthAdjust="spacingAndGlyphs">**</text>
<text x="346" y="76.7" font-size="4.4" font-weight="bold" text-anchor="end" fill="#1c1c1c" stroke="#1c1c1c" stroke-width="0.15" textLength="15.4" lengthAdjust="spacingAndGlyphs">siCtrl</text>
<text x="349.375" y="76.905" font-size="5.5" font-weight="bold" text-anchor="middle" fill="#000" stroke="#000" stroke-width="0.77">+</text>
<text x="361.125" y="76.905" font-size="6.820000000000001" font-weight="bold" text-anchor="middle" fill="#000" stroke="#000" stroke-width="0.20">-</text>
<text x="372.375" y="76.905" font-size="5.5" font-weight="bold" text-anchor="middle" fill="#000" stroke="#000" stroke-width="0.77">+</text>
<text x="383.625" y="76.905" font-size="6.820000000000001" font-weight="bold" text-anchor="middle" fill="#000" stroke="#000" stroke-width="0.20">-</text>
<text x="394.875" y="76.905" font-size="5.5" font-weight="bold" text-anchor="middle" fill="#000" stroke="#000" stroke-width="0.77">+</text>
<text x="406.125" y="76.905" font-size="6.820000000000001" font-weight="bold" text-anchor="middle" fill="#000" stroke="#000" stroke-width="0.20">-</text>
<text x="346" y="81.7" font-size="4.4" font-weight="bold" text-anchor="end" fill="#1c1c1c" stroke="#1c1c1c" stroke-width="0.15" textLength="16.4" lengthAdjust="spacingAndGlyphs">siGαq</text>
<text x="349.375" y="81.905" font-size="6.820000000000001" font-weight="bold" text-anchor="middle" fill="#000" stroke="#000" stroke-width="0.20">-</text>
<text x="361.125" y="81.905" font-size="5.5" font-weight="bold" text-anchor="middle" fill="#000" stroke="#000" stroke-width="0.77">+</text>
<text x="372.375" y="81.905" font-size="6.820000000000001" font-weight="bold" text-anchor="middle" fill="#000" stroke="#000" stroke-width="0.20">-</text>
<text x="383.625" y="81.905" font-size="5.5" font-weight="bold" text-anchor="middle" fill="#000" stroke="#000" stroke-width="0.77">+</text>
<text x="394.875" y="81.905" font-size="6.820000000000001" font-weight="bold" text-anchor="middle" fill="#000" stroke="#000" stroke-width="0.20">-</text>
<text x="406.125" y="81.905" font-size="5.5" font-weight="bold" text-anchor="middle" fill="#000" stroke="#000" stroke-width="0.77">+</text>
<text x="346" y="86.4" font-size="4.4" font-weight="bold" text-anchor="end" fill="#1c1c1c" stroke="#1c1c1c" stroke-width="0.15" textLength="6.8" lengthAdjust="spacingAndGlyphs">PA</text>
<text x="349.375" y="86.605" font-size="6.820000000000001" font-weight="bold" text-anchor="middle" fill="#000" stroke="#000" stroke-width="0.20">-</text>
<text x="361.125" y="86.605" font-size="6.820000000000001" font-weight="bold" text-anchor="middle" fill="#000" stroke="#000" stroke-width="0.20">-</text>
<text x="372.375" y="86.605" font-size="5.5" font-weight="bold" text-anchor="middle" fill="#000" stroke="#000" stroke-width="0.77">+</text>
<text x="383.625" y="86.605" font-size="5.5" font-weight="bold" text-anchor="middle" fill="#000" stroke="#000" stroke-width="0.77">+</text>
<text x="394.875" y="86.605" font-size="6.820000000000001" font-weight="bold" text-anchor="middle" fill="#000" stroke="#000" stroke-width="0.20">-</text>
<text x="406.125" y="86.605" font-size="6.820000000000001" font-weight="bold" text-anchor="middle" fill="#000" stroke="#000" stroke-width="0.20">-</text>
<text x="346" y="91.1" font-size="4.4" font-weight="bold" text-anchor="end" fill="#1c1c1c" stroke="#1c1c1c" stroke-width="0.15" textLength="12.5" lengthAdjust="spacingAndGlyphs">5-HT</text>
<text x="349.375" y="91.30499999999999" font-size="6.820000000000001" font-weight="bold" text-anchor="middle" fill="#000" stroke="#000" stroke-width="0.20">-</text>
<text x="361.125" y="91.30499999999999" font-size="6.820000000000001" font-weight="bold" text-anchor="middle" fill="#000" stroke="#000" stroke-width="0.20">-</text>
<text x="372.375" y="91.30499999999999" font-size="6.820000000000001" font-weight="bold" text-anchor="middle" fill="#000" stroke="#000" stroke-width="0.20">-</text>
<text x="383.625" y="91.30499999999999" font-size="6.820000000000001" font-weight="bold" text-anchor="middle" fill="#000" stroke="#000" stroke-width="0.20">-</text>
<text x="394.875" y="91.30499999999999" font-size="5.5" font-weight="bold" text-anchor="middle" fill="#000" stroke="#000" stroke-width="0.77">+</text>
<text x="406.125" y="91.30499999999999" font-size="5.5" font-weight="bold" text-anchor="middle" fill="#000" stroke="#000" stroke-width="0.77">+</text>
<rect x="445.30" y="48.26" width="6.90" height="22.49" fill="#686868" stroke="#3c3c3c" stroke-width="0.45"/>
<line x1="448.75" y1="48.0625" x2="448.75" y2="47.0625" stroke="#333" stroke-width="0.5"/>
<line x1="447.25" y1="47.0625" x2="450.25" y2="47.0625" stroke="#333" stroke-width="0.5"/>
<rect x="455.30" y="53.21" width="6.90" height="17.54" fill="#686868" stroke="#3c3c3c" stroke-width="0.45"/>
<line x1="458.75" y1="53.0125" x2="458.75" y2="52.0125" stroke="#333" stroke-width="0.5"/>
<line x1="457.25" y1="52.0125" x2="460.25" y2="52.0125" stroke="#333" stroke-width="0.5"/>
<rect x="465.30" y="38.36" width="6.90" height="32.39" fill="#686868" stroke="#3c3c3c" stroke-width="0.45"/>
<line x1="468.75" y1="38.1625" x2="468.75" y2="37.1625" stroke="#333" stroke-width="0.5"/>
<line x1="467.25" y1="37.1625" x2="470.25" y2="37.1625" stroke="#333" stroke-width="0.5"/>
<rect x="475.30" y="46.20" width="6.90" height="24.55" fill="#686868" stroke="#3c3c3c" stroke-width="0.45"/>
<line x1="478.75" y1="46.0" x2="478.75" y2="45.0" stroke="#333" stroke-width="0.5"/>
<line x1="477.25" y1="45.0" x2="480.25" y2="45.0" stroke="#333" stroke-width="0.5"/>
<rect x="485.30" y="40.43" width="6.90" height="30.32" fill="#686868" stroke="#3c3c3c" stroke-width="0.45"/>
<line x1="488.75" y1="40.225" x2="488.75" y2="39.225" stroke="#333" stroke-width="0.5"/>
<line x1="487.25" y1="39.225" x2="490.25" y2="39.225" stroke="#333" stroke-width="0.5"/>
<rect x="495.30" y="47.03" width="6.90" height="23.72" fill="#686868" stroke="#3c3c3c" stroke-width="0.45"/>
<line x1="498.75" y1="46.825" x2="498.75" y2="45.825" stroke="#333" stroke-width="0.5"/>
<line x1="497.25" y1="45.825" x2="500.25" y2="45.825" stroke="#333" stroke-width="0.5"/>
<line x1="443.75" y1="27.5" x2="443.75" y2="71.05" stroke="#111" stroke-width="0.8"/>
<line x1="441.95" y1="29.5" x2="443.75" y2="29.5" stroke="#111" stroke-width="0.7"/>
<text x="442" y="31.228" font-size="4.8" font-weight="bold" text-anchor="end" fill="#000" stroke="#000" stroke-width="0.24">100</text>
<line x1="441.95" y1="37.6" x2="443.75" y2="37.6" stroke="#111" stroke-width="0.7"/>
<text x="442" y="39.328" font-size="4.8" font-weight="bold" text-anchor="end" fill="#000" stroke="#000" stroke-width="0.24">80</text>
<line x1="441.95" y1="45.9" x2="443.75" y2="45.9" stroke="#111" stroke-width="0.7"/>
<text x="442" y="47.628" font-size="4.8" font-weight="bold" text-anchor="end" fill="#000" stroke="#000" stroke-width="0.24">60</text>
<line x1="441.95" y1="54.2" x2="443.75" y2="54.2" stroke="#111" stroke-width="0.7"/>
<text x="442" y="55.928000000000004" font-size="4.8" font-weight="bold" text-anchor="end" fill="#000" stroke="#000" stroke-width="0.24">40</text>
<line x1="441.95" y1="62.5" x2="443.75" y2="62.5" stroke="#111" stroke-width="0.7"/>
<text x="442" y="64.228" font-size="4.8" font-weight="bold" text-anchor="end" fill="#000" stroke="#000" stroke-width="0.24">20</text>
<line x1="441.95" y1="70.75" x2="443.75" y2="70.75" stroke="#111" stroke-width="0.7"/>
<text x="442" y="72.478" font-size="4.8" font-weight="bold" text-anchor="end" fill="#000" stroke="#000" stroke-width="0.24">0</text>
<line x1="443.35" y1="70.75" x2="504.5" y2="70.75" stroke="#111" stroke-width="0.8"/>
<text x="473.7" y="22" font-size="5.2" font-weight="bold" text-anchor="middle" fill="#000" stroke="#000" stroke-width="0.26" textLength="32.5" lengthAdjust="spacingAndGlyphs">IP<tspan font-size="65%" dy="0.25em">3</tspan><tspan dy="-0.16em"> in cells</tspan></text>
<text x="429.2" y="50.4" font-size="4.5" font-weight="bold" text-anchor="middle" fill="#000" stroke="#000" stroke-width="0.23" textLength="26.5" lengthAdjust="spacingAndGlyphs" transform="rotate(-90 429.2 50.4)">pg/g protein</text>
<polyline points="449.25,47 449.25,27 491.25,27" fill="none" stroke="#222" stroke-width="0.55"/>
<text x="468.75" y="28.36008" font-size="5.5440000000000005" font-weight="bold" text-anchor="middle" fill="#000" stroke="#000" stroke-width="0.28" textLength="5.100480000000001" lengthAdjust="spacingAndGlyphs">**</text>
<text x="488.75" y="28.36008" font-size="5.5440000000000005" font-weight="bold" text-anchor="middle" fill="#000" stroke="#000" stroke-width="0.28" textLength="5.100480000000001" lengthAdjust="spacingAndGlyphs">**</text>
<polyline points="449.25,42.5 457.5,42.5" fill="none" stroke="#222" stroke-width="0.55"/>
<text x="459" y="44.36008" font-size="5.5440000000000005" font-weight="bold" text-anchor="middle" fill="#000" stroke="#000" stroke-width="0.28" textLength="5.100480000000001" lengthAdjust="spacingAndGlyphs">**</text>
<polyline points="468.75,37 468.75,32.5 476,32.5" fill="none" stroke="#222" stroke-width="0.55"/>
<text x="479" y="34.360079999999996" font-size="5.5440000000000005" font-weight="bold" text-anchor="middle" fill="#000" stroke="#000" stroke-width="0.28" textLength="5.100480000000001" lengthAdjust="spacingAndGlyphs">**</text>
<polyline points="488.75,38.8 488.75,33.8 496,33.8" fill="none" stroke="#222" stroke-width="0.55"/>
<text x="499" y="35.56008" font-size="5.5440000000000005" font-weight="bold" text-anchor="middle" fill="#000" stroke="#000" stroke-width="0.28" textLength="5.100480000000001" lengthAdjust="spacingAndGlyphs">**</text>
<text x="444.2" y="75.89999999999999" font-size="4.0" font-weight="bold" text-anchor="end" fill="#1c1c1c" stroke="#1c1c1c" stroke-width="0.14" textLength="12.5" lengthAdjust="spacingAndGlyphs">siCtrl</text>
<text x="448.75" y="76.14999999999999" font-size="5.0" font-weight="bold" text-anchor="middle" fill="#000" stroke="#000" stroke-width="0.70">+</text>
<text x="458.75" y="76.14999999999999" font-size="6.2" font-weight="bold" text-anchor="middle" fill="#000" stroke="#000" stroke-width="0.19">-</text>
<text x="468.75" y="76.14999999999999" font-size="5.0" font-weight="bold" text-anchor="middle" fill="#000" stroke="#000" stroke-width="0.70">+</text>
<text x="478.75" y="76.14999999999999" font-size="6.2" font-weight="bold" text-anchor="middle" fill="#000" stroke="#000" stroke-width="0.19">-</text>
<text x="488.75" y="76.14999999999999" font-size="5.0" font-weight="bold" text-anchor="middle" fill="#000" stroke="#000" stroke-width="0.70">+</text>
<text x="498.75" y="76.14999999999999" font-size="6.2" font-weight="bold" text-anchor="middle" fill="#000" stroke="#000" stroke-width="0.19">-</text>
<text x="444.2" y="80.3" font-size="4.0" font-weight="bold" text-anchor="end" fill="#1c1c1c" stroke="#1c1c1c" stroke-width="0.14" textLength="13.4" lengthAdjust="spacingAndGlyphs">siGαq</text>
<text x="448.75" y="80.55" font-size="6.2" font-weight="bold" text-anchor="middle" fill="#000" stroke="#000" stroke-width="0.19">-</text>
<text x="458.75" y="80.55" font-size="5.0" font-weight="bold" text-anchor="middle" fill="#000" stroke="#000" stroke-width="0.70">+</text>
<text x="468.75" y="80.55" font-size="6.2" font-weight="bold" text-anchor="middle" fill="#000" stroke="#000" stroke-width="0.19">-</text>
<text x="478.75" y="80.55" font-size="5.0" font-weight="bold" text-anchor="middle" fill="#000" stroke="#000" stroke-width="0.70">+</text>
<text x="488.75" y="80.55" font-size="6.2" font-weight="bold" text-anchor="middle" fill="#000" stroke="#000" stroke-width="0.19">-</text>
<text x="498.75" y="80.55" font-size="5.0" font-weight="bold" text-anchor="middle" fill="#000" stroke="#000" stroke-width="0.70">+</text>
<text x="444.2" y="85.0" font-size="4.0" font-weight="bold" text-anchor="end" fill="#1c1c1c" stroke="#1c1c1c" stroke-width="0.14" textLength="6.7" lengthAdjust="spacingAndGlyphs">PA</text>
<text x="448.75" y="85.25" font-size="6.2" font-weight="bold" text-anchor="middle" fill="#000" stroke="#000" stroke-width="0.19">-</text>
<text x="458.75" y="85.25" font-size="6.2" font-weight="bold" text-anchor="middle" fill="#000" stroke="#000" stroke-width="0.19">-</text>
<text x="468.75" y="85.25" font-size="5.0" font-weight="bold" text-anchor="middle" fill="#000" stroke="#000" stroke-width="0.70">+</text>
<text x="478.75" y="85.25" font-size="5.0" font-weight="bold" text-anchor="middle" fill="#000" stroke="#000" stroke-width="0.70">+</text>
<text x="488.75" y="85.25" font-size="6.2" font-weight="bold" text-anchor="middle" fill="#000" stroke="#000" stroke-width="0.19">-</text>
<text x="498.75" y="85.25" font-size="6.2" font-weight="bold" text-anchor="middle" fill="#000" stroke="#000" stroke-width="0.19">-</text>
<text x="444.2" y="89.7" font-size="4.0" font-weight="bold" text-anchor="end" fill="#1c1c1c" stroke="#1c1c1c" stroke-width="0.14" textLength="11.5" lengthAdjust="spacingAndGlyphs">5-HT</text>
<text x="448.75" y="89.95" font-size="6.2" font-weight="bold" text-anchor="middle" fill="#000" stroke="#000" stroke-width="0.19">-</text>
<text x="458.75" y="89.95" font-size="6.2" font-weight="bold" text-anchor="middle" fill="#000" stroke="#000" stroke-width="0.19">-</text>
<text x="468.75" y="89.95" font-size="6.2" font-weight="bold" text-anchor="middle" fill="#000" stroke="#000" stroke-width="0.19">-</text>
<text x="478.75" y="89.95" font-size="6.2" font-weight="bold" text-anchor="middle" fill="#000" stroke="#000" stroke-width="0.19">-</text>
<text x="488.75" y="89.95" font-size="5.0" font-weight="bold" text-anchor="middle" fill="#000" stroke="#000" stroke-width="0.70">+</text>
<text x="498.75" y="89.95" font-size="5.0" font-weight="bold" text-anchor="middle" fill="#000" stroke="#000" stroke-width="0.70">+</text>
<text x="0.8" y="120.4" font-size="15.8" font-weight="bold" text-anchor="start" fill="#000" stroke="#000" stroke-width="0.79" textLength="13.6" lengthAdjust="spacingAndGlyphs">B</text>
<text x="12.9" y="132.6" font-size="15.5" font-weight="bold" text-anchor="start" fill="#000" stroke="#000" stroke-width="0.78">a</text>
<rect x="64.20" y="137.60" width="48.80" height="17.00" fill="#eeeeee"/>
<rect x="64.20" y="143.20" width="48.80" height="1.40" fill="#f7f7f7"/>
<rect x="64.20" y="149.00" width="48.80" height="1.40" fill="#f7f7f7"/>
<rect x="64.90" y="139.60" width="15.20" height="3.20" rx="2.52" ry="1.60" fill="#444" opacity="0.10" filter="url(#bl2)"/>
<rect x="65.50" y="140.30" width="14.00" height="1.80" rx="2.34" ry="0.90" fill="#050505" opacity="0.45" filter="url(#bl)"/>
<rect x="64.90" y="144.70" width="15.20" height="3.80" rx="3.36" ry="1.90" fill="#444" opacity="0.14" filter="url(#bl2)"/>
<rect x="65.50" y="145.40" width="14.00" height="2.40" rx="3.12" ry="1.20" fill="#050505" opacity="0.65" filter="url(#bl)"/>
<rect x="64.90" y="150.20" width="15.20" height="3.90" rx="3.50" ry="1.95" fill="#444" opacity="0.22" filter="url(#bl2)"/>
<rect x="65.50" y="150.90" width="14.00" height="2.50" rx="3.25" ry="1.25" fill="#050505" opacity="1" filter="url(#bl)"/>
<rect x="80.90" y="139.00" width="16.20" height="4.40" rx="4.20" ry="2.20" fill="#444" opacity="0.22" filter="url(#bl2)"/>
<rect x="81.50" y="139.70" width="15.00" height="3.00" rx="3.90" ry="1.50" fill="#050505" opacity="1" filter="url(#bl)"/>
<rect x="80.90" y="144.40" width="16.20" height="4.40" rx="4.20" ry="2.20" fill="#444" opacity="0.22" filter="url(#bl2)"/>
<rect x="81.50" y="145.10" width="15.00" height="3.00" rx="3.90" ry="1.50" fill="#050505" opacity="1" filter="url(#bl)"/>
<rect x="80.90" y="150.20" width="16.20" height="3.90" rx="3.50" ry="1.95" fill="#444" opacity="0.22" filter="url(#bl2)"/>
<rect x="81.50" y="150.90" width="15.00" height="2.50" rx="3.25" ry="1.25" fill="#050505" opacity="1" filter="url(#bl)"/>
<rect x="97.90" y="139.40" width="14.20" height="3.60" rx="3.08" ry="1.80" fill="#444" opacity="0.18" filter="url(#bl2)"/>
<rect x="98.50" y="140.10" width="13.00" height="2.20" rx="2.86" ry="1.10" fill="#050505" opacity="0.8" filter="url(#bl)"/>
<rect x="97.90" y="144.60" width="14.20" height="4.00" rx="3.64" ry="2.00" fill="#444" opacity="0.20" filter="url(#bl2)"/>
<rect x="98.50" y="145.30" width="13.00" height="2.60" rx="3.38" ry="1.30" fill="#050505" opacity="0.9" filter="url(#bl)"/>
<rect x="97.90" y="150.20" width="14.20" height="3.90" rx="3.50" ry="1.95" fill="#444" opacity="0.22" filter="url(#bl2)"/>
<rect x="98.50" y="150.90" width="13.00" height="2.50" rx="3.25" ry="1.25" fill="#050505" opacity="1" filter="url(#bl)"/>
<text x="62.5" y="143.0" font-size="4.8" font-weight="bold" text-anchor="end" fill="#000" stroke="#000" stroke-width="0.24" textLength="37.5" lengthAdjust="spacingAndGlyphs">5-HT<tspan font-size="62%" dy="0.22em">2B</tspan><tspan dy="-0.14em">R(PM)</tspan></text>
<text x="62.5" y="148.8" font-size="4.8" font-weight="bold" text-anchor="end" fill="#000" stroke="#000" stroke-width="0.24" textLength="37.5" lengthAdjust="spacingAndGlyphs">5-HT<tspan font-size="62%" dy="0.22em">2A</tspan><tspan dy="-0.14em">R(PM)</tspan></text>
<text x="62.5" y="154.6" font-size="4.8" font-weight="bold" text-anchor="end" fill="#000" stroke="#000" stroke-width="0.24" textLength="57.5" lengthAdjust="spacingAndGlyphs">Na<tspan font-size="60%" dy="-0.45em">+</tspan><tspan dy="0.27em">-K</tspan><tspan font-size="60%" dy="-0.45em">+</tspan><tspan dy="0.27em">-ATPase(PM)</tspan></text>
<text x="62.5" y="158.6" font-size="4.2" text-anchor="end" fill="#1c1c1c" stroke="#1c1c1c" stroke-width="0.25" textLength="11.5" lengthAdjust="spacingAndGlyphs">siCtrl</text>
<text x="62.5" y="163.0" font-size="4.2" text-anchor="end" fill="#1c1c1c" stroke="#1c1c1c" stroke-width="0.25" textLength="31.5" lengthAdjust="spacingAndGlyphs">si5-HT<tspan font-size="62%" dy="0.22em">2A,2B</tspan><tspan dy="-0.14em">R</tspan></text>
<text x="62.5" y="167.2" font-size="4.2" text-anchor="end" fill="#1c1c1c" stroke="#1c1c1c" stroke-width="0.25" textLength="6.5" lengthAdjust="spacingAndGlyphs">PA</text>
<text x="72.5" y="158.12375" font-size="3.625" font-weight="bold" text-anchor="middle" fill="#1c1c1c" stroke="#1c1c1c" stroke-width="0.51">+</text>
<text x="88.75" y="158.12375" font-size="4.495" font-weight="bold" text-anchor="middle" fill="#1c1c1c" stroke="#1c1c1c" stroke-width="0.13">-</text>
<text x="105" y="158.12375" font-size="4.495" font-weight="bold" text-anchor="middle" fill="#1c1c1c" stroke="#1c1c1c" stroke-width="0.13">-</text>
<text x="72.5" y="162.72375" font-size="4.495" font-weight="bold" text-anchor="middle" fill="#1c1c1c" stroke="#1c1c1c" stroke-width="0.13">-</text>
<text x="88.75" y="162.72375" font-size="3.625" font-weight="bold" text-anchor="middle" fill="#1c1c1c" stroke="#1c1c1c" stroke-width="0.51">+</text>
<text x="105" y="162.72375" font-size="3.625" font-weight="bold" text-anchor="middle" fill="#1c1c1c" stroke="#1c1c1c" stroke-width="0.51">+</text>
<text x="72.5" y="167.12375" font-size="4.495" font-weight="bold" text-anchor="middle" fill="#1c1c1c" stroke="#1c1c1c" stroke-width="0.13">-</text>
<text x="88.75" y="167.12375" font-size="4.495" font-weight="bold" text-anchor="middle" fill="#1c1c1c" stroke="#1c1c1c" stroke-width="0.13">-</text>
<text x="105" y="167.12375" font-size="3.625" font-weight="bold" text-anchor="middle" fill="#1c1c1c" stroke="#1c1c1c" stroke-width="0.51">+</text>
<text x="59" y="173.2" font-size="4.6" font-weight="bold" text-anchor="middle" fill="#000" stroke="#000" stroke-width="0.23" textLength="20" lengthAdjust="spacingAndGlyphs">5-HT<tspan font-size="62%" dy="0.22em">2B</tspan><tspan dy="-0.14em">R</tspan></text>
<text x="98.2" y="173.2" font-size="4.6" font-weight="bold" text-anchor="middle" fill="#000" stroke="#000" stroke-width="0.23" textLength="18.5" lengthAdjust="spacingAndGlyphs">5-HT<tspan font-size="62%" dy="0.22em">2A</tspan><tspan dy="-0.14em">R</tspan></text>
<rect x="45.60" y="201.50" width="8.10" height="13.40" fill="#d2d2d2" stroke="#8a8a8a" stroke-width="0.45"/>
<line x1="49.65" y1="201.3" x2="49.65" y2="200.70000000000002" stroke="#333" stroke-width="0.5"/>
<line x1="48.15" y1="200.70000000000002" x2="51.15" y2="200.70000000000002" stroke="#333" stroke-width="0.5"/>
<rect x="55.70" y="184.20" width="8.00" height="30.70" fill="#d2d2d2" stroke="#8a8a8a" stroke-width="0.45"/>
<line x1="59.7" y1="184" x2="59.7" y2="182.8" stroke="#333" stroke-width="0.5"/>
<line x1="58.2" y1="182.8" x2="61.2" y2="182.8" stroke="#333" stroke-width="0.5"/>
<rect x="65.90" y="197.60" width="8.20" height="17.30" fill="#d2d2d2" stroke="#8a8a8a" stroke-width="0.45"/>
<line x1="70.0" y1="197.4" x2="70.0" y2="196.4" stroke="#333" stroke-width="0.5"/>
<line x1="68.5" y1="196.4" x2="71.5" y2="196.4" stroke="#333" stroke-width="0.5"/>
<line x1="42.2" y1="180" x2="42.2" y2="215.20000000000002" stroke="#111" stroke-width="0.8"/>
<line x1="40.400000000000006" y1="180.75" x2="42.2" y2="180.75" stroke="#111" stroke-width="0.7"/>
<text x="40.6" y="182.046" font-size="3.6" font-weight="bold" text-anchor="end" fill="#1c1c1c" stroke="#1c1c1c" stroke-width="0.13" textLength="6.0" lengthAdjust="spacingAndGlyphs">2.5</text>
<line x1="40.400000000000006" y1="187.6" x2="42.2" y2="187.6" stroke="#111" stroke-width="0.7"/>
<text x="40.6" y="188.896" font-size="3.6" font-weight="bold" text-anchor="end" fill="#1c1c1c" stroke="#1c1c1c" stroke-width="0.13" textLength="6.0" lengthAdjust="spacingAndGlyphs">2.0</text>
<line x1="40.400000000000006" y1="194.4" x2="42.2" y2="194.4" stroke="#111" stroke-width="0.7"/>
<text x="40.6" y="195.696" font-size="3.6" font-weight="bold" text-anchor="end" fill="#1c1c1c" stroke="#1c1c1c" stroke-width="0.13" textLength="6.0" lengthAdjust="spacingAndGlyphs">1.5</text>
<line x1="40.400000000000006" y1="201.3" x2="42.2" y2="201.3" stroke="#111" stroke-width="0.7"/>
<text x="40.6" y="202.596" font-size="3.6" font-weight="bold" text-anchor="end" fill="#1c1c1c" stroke="#1c1c1c" stroke-width="0.13" textLength="6.0" lengthAdjust="spacingAndGlyphs">1.0</text>
<line x1="40.400000000000006" y1="208.1" x2="42.2" y2="208.1" stroke="#111" stroke-width="0.7"/>
<text x="40.6" y="209.396" font-size="3.6" font-weight="bold" text-anchor="end" fill="#1c1c1c" stroke="#1c1c1c" stroke-width="0.13" textLength="6.0" lengthAdjust="spacingAndGlyphs">0.5</text>
<line x1="40.400000000000006" y1="214.9" x2="42.2" y2="214.9" stroke="#111" stroke-width="0.7"/>
<text x="40.6" y="216.196" font-size="3.6" font-weight="bold" text-anchor="end" fill="#1c1c1c" stroke="#1c1c1c" stroke-width="0.13" textLength="6.0" lengthAdjust="spacingAndGlyphs">0.0</text>
<line x1="41.800000000000004" y1="214.9" x2="75.5" y2="214.9" stroke="#111" stroke-width="0.8"/>
<rect x="82.60" y="201.50" width="8.90" height="13.40" fill="#000"/>
<line x1="87.05" y1="201.3" x2="87.05" y2="200.70000000000002" stroke="#000" stroke-width="0.5"/>
<line x1="85.55" y1="200.70000000000002" x2="88.55" y2="200.70000000000002" stroke="#000" stroke-width="0.5"/>
<rect x="92.60" y="185.60" width="9.00" height="29.30" fill="#000"/>
<line x1="97.1" y1="185.4" x2="97.1" y2="184.0" stroke="#000" stroke-width="0.5"/>
<line x1="95.6" y1="184.0" x2="98.6" y2="184.0" stroke="#000" stroke-width="0.5"/>
<rect x="102.90" y="198.90" width="8.60" height="16.00" fill="#000"/>
<line x1="107.2" y1="198.7" x2="107.2" y2="197.79999999999998" stroke="#000" stroke-width="0.5"/>
<line x1="105.7" y1="197.79999999999998" x2="108.7" y2="197.79999999999998" stroke="#000" stroke-width="0.5"/>
<line x1="80.6" y1="214.9" x2="112.5" y2="214.9" stroke="#111" stroke-width="0.8"/>
<text x="25.8" y="197" font-size="4.0" font-weight="bold" text-anchor="middle" fill="#1c1c1c" stroke="#1c1c1c" stroke-width="0.14" textLength="26" lengthAdjust="spacingAndGlyphs" transform="rotate(-90 25.8 197)">Fold increase</text>
<text x="30.2" y="197" font-size="4.0" font-weight="bold" text-anchor="middle" fill="#1c1c1c" stroke="#1c1c1c" stroke-width="0.14" textLength="23" lengthAdjust="spacingAndGlyphs" transform="rotate(-90 30.2 197)">above basal</text>
<polyline points="50,200.6 50,176.7 63,176.7" fill="none" stroke="#222" stroke-width="0.45"/>
<text x="60.2" y="178.00768" font-size="4.224" font-weight="bold" text-anchor="middle" fill="#1c1c1c" stroke="#1c1c1c" stroke-width="0.21" textLength="3.88608" lengthAdjust="spacingAndGlyphs">**</text>
<polyline points="62,182.4 62,178.9 68.4,178.9" fill="none" stroke="#222" stroke-width="0.45"/>
<text x="70" y="180.40768" font-size="4.224" font-weight="bold" text-anchor="middle" fill="#1c1c1c" stroke="#1c1c1c" stroke-width="0.21" textLength="3.88608" lengthAdjust="spacingAndGlyphs">**</text>
<polyline points="87,200.6 87,177 99.2,177" fill="none" stroke="#222" stroke-width="0.45"/>
<text x="97.4" y="178.40768" font-size="4.224" font-weight="bold" text-anchor="middle" fill="#1c1c1c" stroke="#1c1c1c" stroke-width="0.21" textLength="3.88608" lengthAdjust="spacingAndGlyphs">**</text>
<polyline points="99.2,182.6 99.2,179.7 106,179.7" fill="none" stroke="#222" stroke-width="0.45"/>
<text x="107.6" y="181.00768" font-size="4.224" font-weight="bold" text-anchor="middle" fill="#1c1c1c" stroke="#1c1c1c" stroke-width="0.21" textLength="3.88608" lengthAdjust="spacingAndGlyphs">**</text>
<text x="42" y="219.5" font-size="2.8" font-weight="bold" text-anchor="end" fill="#1c1c1c" stroke="#1c1c1c" stroke-width="0.10" textLength="6.5" lengthAdjust="spacingAndGlyphs">siCtrl</text>
<text x="42" y="223.2" font-size="2.8" font-weight="bold" text-anchor="end" fill="#1c1c1c" stroke="#1c1c1c" stroke-width="0.10" textLength="15" lengthAdjust="spacingAndGlyphs">si5-HT<tspan font-size="62%" dy="0.22em">2A,2B</tspan><tspan dy="-0.14em">R</tspan></text>
<text x="42" y="227.0" font-size="2.8" font-weight="bold" text-anchor="end" fill="#1c1c1c" stroke="#1c1c1c" stroke-width="0.10" textLength="3.4" lengthAdjust="spacingAndGlyphs">PA</text>
<text x="49.65" y="219.8175" font-size="4.25" font-weight="bold" text-anchor="middle" fill="#1c1c1c" stroke="#1c1c1c" stroke-width="0.60">+</text>
<text x="59.7" y="219.8175" font-size="5.27" font-weight="bold" text-anchor="middle" fill="#000" stroke="#000" stroke-width="0.16">-</text>
<text x="70.0" y="219.8175" font-size="5.27" font-weight="bold" text-anchor="middle" fill="#000" stroke="#000" stroke-width="0.16">-</text>
<text x="87.05" y="219.8175" font-size="4.25" font-weight="bold" text-anchor="middle" fill="#1c1c1c" stroke="#1c1c1c" stroke-width="0.60">+</text>
<text x="97.1" y="219.8175" font-size="5.27" font-weight="bold" text-anchor="middle" fill="#000" stroke="#000" stroke-width="0.16">-</text>
<text x="107.2" y="219.8175" font-size="5.27" font-weight="bold" text-anchor="middle" fill="#000" stroke="#000" stroke-width="0.16">-</text>
<text x="49.65" y="223.51749999999998" font-size="5.27" font-weight="bold" text-anchor="middle" fill="#000" stroke="#000" stroke-width="0.16">-</text>
<text x="59.7" y="223.51749999999998" font-size="4.25" font-weight="bold" text-anchor="middle" fill="#1c1c1c" stroke="#1c1c1c" stroke-width="0.60">+</text>
<text x="70.0" y="223.51749999999998" font-size="4.25" font-weight="bold" text-anchor="middle" fill="#1c1c1c" stroke="#1c1c1c" stroke-width="0.60">+</text>
<text x="87.05" y="223.51749999999998" font-size="5.27" font-weight="bold" text-anchor="middle" fill="#000" stroke="#000" stroke-width="0.16">-</text>
<text x="97.1" y="223.51749999999998" font-size="4.25" font-weight="bold" text-anchor="middle" fill="#1c1c1c" stroke="#1c1c1c" stroke-width="0.60">+</text>
<text x="107.2" y="223.51749999999998" font-size="4.25" font-weight="bold" text-anchor="middle" fill="#1c1c1c" stroke="#1c1c1c" stroke-width="0.60">+</text>
<text x="49.65" y="227.3175" font-size="5.27" font-weight="bold" text-anchor="middle" fill="#000" stroke="#000" stroke-width="0.16">-</text>
<text x="59.7" y="227.3175" font-size="5.27" font-weight="bold" text-anchor="middle" fill="#000" stroke="#000" stroke-width="0.16">-</text>
<text x="70.0" y="227.3175" font-size="4.25" font-weight="bold" text-anchor="middle" fill="#1c1c1c" stroke="#1c1c1c" stroke-width="0.60">+</text>
<text x="87.05" y="227.3175" font-size="5.27" font-weight="bold" text-anchor="middle" fill="#000" stroke="#000" stroke-width="0.16">-</text>
<text x="97.1" y="227.3175" font-size="5.27" font-weight="bold" text-anchor="middle" fill="#000" stroke="#000" stroke-width="0.16">-</text>
<text x="107.2" y="227.3175" font-size="4.25" font-weight="bold" text-anchor="middle" fill="#1c1c1c" stroke="#1c1c1c" stroke-width="0.60">+</text>
<text x="125.4" y="133.5" font-size="14.6" font-weight="bold" text-anchor="start" fill="#000" stroke="#000" stroke-width="0.73" textLength="9.8" lengthAdjust="spacingAndGlyphs">b</text>
<rect x="178.20" y="128.60" width="82.30" height="7.40" fill="#d9d9d9" filter="url(#bl)"/>
<rect x="178.20" y="136.60" width="82.30" height="6.40" fill="#f6f6f6"/>
<rect x="180.40" y="130.70" width="13.10" height="3.40" rx="2.80" ry="1.70" fill="#444" opacity="0.11" filter="url(#bl2)"/>
<rect x="181.00" y="131.40" width="11.90" height="2.00" rx="2.60" ry="1.00" fill="#050505" opacity="0.5" filter="url(#bl)"/>
<rect x="180.40" y="137.70" width="13.10" height="4.10" rx="3.78" ry="2.05" fill="#444" opacity="0.22" filter="url(#bl2)"/>
<rect x="181.00" y="138.40" width="11.90" height="2.70" rx="3.51" ry="1.35" fill="#050505" opacity="1" filter="url(#bl)"/>
<rect x="196.80" y="130.40" width="12.20" height="4.00" rx="3.64" ry="2.00" fill="#444" opacity="0.22" filter="url(#bl2)"/>
<rect x="197.40" y="131.10" width="11.00" height="2.60" rx="3.38" ry="1.30" fill="#050505" opacity="1" filter="url(#bl)"/>
<rect x="196.80" y="137.70" width="12.20" height="4.10" rx="3.78" ry="2.05" fill="#444" opacity="0.22" filter="url(#bl2)"/>
<rect x="197.40" y="138.40" width="11.00" height="2.70" rx="3.51" ry="1.35" fill="#050505" opacity="1" filter="url(#bl)"/>
<rect x="212.40" y="130.60" width="13.00" height="3.60" rx="3.08" ry="1.80" fill="#444" opacity="0.17" filter="url(#bl2)"/>
<rect x="213.00" y="131.30" width="11.80" height="2.20" rx="2.86" ry="1.10" fill="#050505" opacity="0.75" filter="url(#bl)"/>
<rect x="212.40" y="137.70" width="13.00" height="4.10" rx="3.78" ry="2.05" fill="#444" opacity="0.22" filter="url(#bl2)"/>
<rect x="213.00" y="138.40" width="11.80" height="2.70" rx="3.51" ry="1.35" fill="#050505" opacity="1" filter="url(#bl)"/>
<rect x="228.80" y="130.70" width="13.10" height="3.40" rx="2.80" ry="1.70" fill="#444" opacity="0.11" filter="url(#bl2)"/>
<rect x="229.40" y="131.40" width="11.90" height="2.00" rx="2.60" ry="1.00" fill="#050505" opacity="0.5" filter="url(#bl)"/>
<rect x="228.80" y="137.70" width="13.10" height="4.10" rx="3.78" ry="2.05" fill="#444" opacity="0.22" filter="url(#bl2)"/>
<rect x="229.40" y="138.40" width="11.90" height="2.70" rx="3.51" ry="1.35" fill="#050505" opacity="1" filter="url(#bl)"/>
<rect x="245.30" y="130.40" width="13.10" height="4.00" rx="3.64" ry="2.00" fill="#444" opacity="0.22" filter="url(#bl2)"/>
<rect x="245.90" y="131.10" width="11.90" height="2.60" rx="3.38" ry="1.30" fill="#050505" opacity="1" filter="url(#bl)"/>
<rect x="245.30" y="137.70" width="13.10" height="4.10" rx="3.78" ry="2.05" fill="#444" opacity="0.22" filter="url(#bl2)"/>
<rect x="245.90" y="138.40" width="11.90" height="2.70" rx="3.51" ry="1.35" fill="#050505" opacity="1" filter="url(#bl)"/>
<text x="176.8" y="134.2" font-size="6.6" font-weight="bold" text-anchor="end" fill="#000" stroke="#000" stroke-width="0.33" textLength="33.8" lengthAdjust="spacingAndGlyphs">Gαq(WC)</text>
<text x="176.8" y="142.4" font-size="6.6" font-weight="bold" text-anchor="end" fill="#000" stroke="#000" stroke-width="0.33" textLength="44.8" lengthAdjust="spacingAndGlyphs">β-actin(WC)</text>
<text x="176.8" y="150.3" font-size="6.4" text-anchor="end" fill="#000" stroke="#000" stroke-width="0.30" textLength="24.4" lengthAdjust="spacingAndGlyphs">U-73122</text>
<text x="176.8" y="157.3" font-size="6.4" text-anchor="end" fill="#000" stroke="#000" stroke-width="0.30" textLength="8.4" lengthAdjust="spacingAndGlyphs">PA</text>
<text x="188.3" y="149.31125" font-size="6.045" font-weight="bold" text-anchor="middle" fill="#000" stroke="#000" stroke-width="0.18">-</text>
<text x="202.9" y="149.31125" font-size="6.045" font-weight="bold" text-anchor="middle" fill="#000" stroke="#000" stroke-width="0.18">-</text>
<text x="219.4" y="149.31125" font-size="6.045" font-weight="bold" text-anchor="middle" fill="#000" stroke="#000" stroke-width="0.18">-</text>
<text x="235" y="149.31125" font-size="4.875" font-weight="bold" text-anchor="middle" fill="#000" stroke="#000" stroke-width="0.68">+</text>
<text x="251.6" y="149.31125" font-size="4.875" font-weight="bold" text-anchor="middle" fill="#000" stroke="#000" stroke-width="0.68">+</text>
<text x="188.3" y="156.51125" font-size="6.045" font-weight="bold" text-anchor="middle" fill="#000" stroke="#000" stroke-width="0.18">-</text>
<text x="202.9" y="156.51125" font-size="4.875" font-weight="bold" text-anchor="middle" fill="#000" stroke="#000" stroke-width="0.68">+</text>
<text x="219.4" y="156.51125" font-size="4.875" font-weight="bold" text-anchor="middle" fill="#000" stroke="#000" stroke-width="0.68">+</text>
<text x="235" y="156.51125" font-size="6.045" font-weight="bold" text-anchor="middle" fill="#000" stroke="#000" stroke-width="0.18">-</text>
<text x="251.6" y="156.51125" font-size="4.875" font-weight="bold" text-anchor="middle" fill="#000" stroke="#000" stroke-width="0.68">+</text>
<line x1="183.5" y1="159.7" x2="205" y2="159.7" stroke="#333" stroke-width="0.6"/>
<text x="192.4" y="164.0" font-size="4.2" text-anchor="middle" fill="#1c1c1c" stroke="#1c1c1c" stroke-width="0.28" textLength="11.5" lengthAdjust="spacingAndGlyphs">siCtrl</text>
<line x1="212" y1="160.4" x2="225.4" y2="160.4" stroke="#333" stroke-width="0.6"/>
<text x="218.4" y="166.2" font-size="4.2" text-anchor="middle" fill="#1c1c1c" stroke="#1c1c1c" stroke-width="0.28" textLength="26.5" lengthAdjust="spacingAndGlyphs">si5-HT<tspan font-size="62%" dy="0.22em">2A,2B</tspan><tspan dy="-0.14em">R</tspan></text>
<line x1="233.5" y1="159.7" x2="259" y2="159.7" stroke="#333" stroke-width="0.6"/>
<text x="243.4" y="164.0" font-size="4.2" text-anchor="middle" fill="#1c1c1c" stroke="#1c1c1c" stroke-width="0.28" textLength="11.5" lengthAdjust="spacingAndGlyphs">siCtrl</text>
<rect x="190.30" y="201.50" width="8.90" height="22.50" fill="#686868" stroke="#3c3c3c" stroke-width="0.45"/>
<line x1="194.75" y1="201.3" x2="194.75" y2="200.70000000000002" stroke="#333" stroke-width="0.5"/>
<line x1="193.25" y1="200.70000000000002" x2="196.25" y2="200.70000000000002" stroke="#333" stroke-width="0.5"/>
<rect x="203.00" y="190.15" width="8.90" height="33.85" fill="#686868" stroke="#3c3c3c" stroke-width="0.45"/>
<line x1="207.45" y1="189.95" x2="207.45" y2="188.75" stroke="#333" stroke-width="0.5"/>
<line x1="205.95" y1="188.75" x2="208.95" y2="188.75" stroke="#333" stroke-width="0.5"/>
<rect x="216.00" y="197.41" width="8.90" height="26.59" fill="#686868" stroke="#3c3c3c" stroke-width="0.45"/>
<line x1="220.45" y1="197.214" x2="220.45" y2="196.414" stroke="#333" stroke-width="0.5"/>
<line x1="218.95" y1="196.414" x2="221.95" y2="196.414" stroke="#333" stroke-width="0.5"/>
<rect x="228.90" y="202.18" width="8.90" height="21.82" fill="#686868" stroke="#3c3c3c" stroke-width="0.45"/>
<line x1="233.35" y1="201.981" x2="233.35" y2="200.781" stroke="#333" stroke-width="0.5"/>
<line x1="231.85" y1="200.781" x2="234.85" y2="200.781" stroke="#333" stroke-width="0.5"/>
<rect x="241.70" y="192.65" width="8.90" height="31.35" fill="#686868" stroke="#3c3c3c" stroke-width="0.45"/>
<line x1="246.15" y1="192.447" x2="246.15" y2="191.247" stroke="#333" stroke-width="0.5"/>
<line x1="244.65" y1="191.247" x2="247.65" y2="191.247" stroke="#333" stroke-width="0.5"/>
<line x1="186" y1="177" x2="186" y2="224.3" stroke="#111" stroke-width="0.8"/>
<line x1="184.2" y1="178.5" x2="186" y2="178.5" stroke="#111" stroke-width="0.7"/>
<text x="184.6" y="180.228" font-size="4.8" font-weight="bold" text-anchor="end" fill="#000" stroke="#000" stroke-width="0.24" textLength="7.0" lengthAdjust="spacingAndGlyphs">2.0</text>
<line x1="184.2" y1="189.9" x2="186" y2="189.9" stroke="#111" stroke-width="0.7"/>
<text x="184.6" y="191.62800000000001" font-size="4.8" font-weight="bold" text-anchor="end" fill="#000" stroke="#000" stroke-width="0.24" textLength="7.0" lengthAdjust="spacingAndGlyphs">1.5</text>
<line x1="184.2" y1="201.3" x2="186" y2="201.3" stroke="#111" stroke-width="0.7"/>
<text x="184.6" y="203.02800000000002" font-size="4.8" font-weight="bold" text-anchor="end" fill="#000" stroke="#000" stroke-width="0.24" textLength="7.0" lengthAdjust="spacingAndGlyphs">1.0</text>
<line x1="184.2" y1="212.6" x2="186" y2="212.6" stroke="#111" stroke-width="0.7"/>
<text x="184.6" y="214.328" font-size="4.8" font-weight="bold" text-anchor="end" fill="#000" stroke="#000" stroke-width="0.24" textLength="7.0" lengthAdjust="spacingAndGlyphs">0.5</text>
<line x1="184.2" y1="224" x2="186" y2="224" stroke="#111" stroke-width="0.7"/>
<text x="184.6" y="225.728" font-size="4.8" font-weight="bold" text-anchor="end" fill="#000" stroke="#000" stroke-width="0.24" textLength="7.0" lengthAdjust="spacingAndGlyphs">0.0</text>
<line x1="185.6" y1="224" x2="252.5" y2="224" stroke="#111" stroke-width="0.8"/>
<text x="166.6" y="201" font-size="5.6" font-weight="bold" text-anchor="middle" fill="#000" stroke="#000" stroke-width="0.28" textLength="42" lengthAdjust="spacingAndGlyphs" transform="rotate(-90 166.6 201)">Fold increase</text>
<text x="173.2" y="201" font-size="5.6" font-weight="bold" text-anchor="middle" fill="#000" stroke="#000" stroke-width="0.28" textLength="37" lengthAdjust="spacingAndGlyphs" transform="rotate(-90 173.2 201)">above basal</text>
<polyline points="194.5,200.3 194.5,173.2 249.8,173.2" fill="none" stroke="#222" stroke-width="0.55"/>
<text x="207.7" y="174.31056" font-size="5.808000000000001" font-weight="bold" text-anchor="middle" fill="#000" stroke="#000" stroke-width="0.29" textLength="5.3433600000000006" lengthAdjust="spacingAndGlyphs">**</text>
<text x="219.5" y="174.31056" font-size="5.808000000000001" font-weight="bold" text-anchor="middle" fill="#000" stroke="#000" stroke-width="0.29">*</text>
<text x="231.5" y="172.672" font-size="4.620000000000001" font-weight="bold" text-anchor="middle" fill="#000" stroke="#000" stroke-width="0.35" textLength="5.720000000000001" lengthAdjust="spacingAndGlyphs">NS</text>
<text x="247" y="174.31056" font-size="5.808000000000001" font-weight="bold" text-anchor="middle" fill="#000" stroke="#000" stroke-width="0.29" textLength="5.3433600000000006" lengthAdjust="spacingAndGlyphs">**</text>
<polyline points="207.3,189 207.3,180.0 249.8,180.0" fill="none" stroke="#222" stroke-width="0.55"/>
<text x="220" y="181.31056" font-size="5.808000000000001" font-weight="bold" text-anchor="middle" fill="#000" stroke="#000" stroke-width="0.29" textLength="5.3433600000000006" lengthAdjust="spacingAndGlyphs">**</text>
<text x="233" y="181.31056" font-size="5.808000000000001" font-weight="bold" text-anchor="middle" fill="#000" stroke="#000" stroke-width="0.29" textLength="5.3433600000000006" lengthAdjust="spacingAndGlyphs">**</text>
<text x="246.5" y="179.672" font-size="4.620000000000001" font-weight="bold" text-anchor="middle" fill="#000" stroke="#000" stroke-width="0.35" textLength="5.720000000000001" lengthAdjust="spacingAndGlyphs">NS</text>
<polyline points="233.5,200.5 233.5,186.2 249.8,186.2" fill="none" stroke="#222" stroke-width="0.55"/>
<text x="246.5" y="187.71056000000002" font-size="5.808000000000001" font-weight="bold" text-anchor="middle" fill="#000" stroke="#000" stroke-width="0.29" textLength="5.3433600000000006" lengthAdjust="spacingAndGlyphs">**</text>
<text x="188.2" y="229.7" font-size="4.2" font-weight="bold" text-anchor="end" fill="#1c1c1c" stroke="#1c1c1c" stroke-width="0.15" textLength="19.4" lengthAdjust="spacingAndGlyphs">U-73122</text>
<text x="188.2" y="234.2" font-size="4.2" font-weight="bold" text-anchor="end" fill="#1c1c1c" stroke="#1c1c1c" stroke-width="0.15" textLength="6.4" lengthAdjust="spacingAndGlyphs">PA</text>
<text x="194.75" y="229.7725" font-size="5.89" font-weight="bold" text-anchor="middle" fill="#000" stroke="#000" stroke-width="0.18">-</text>
<text x="207.45" y="229.7725" font-size="5.89" font-weight="bold" text-anchor="middle" fill="#000" stroke="#000" stroke-width="0.18">-</text>
<text x="220.45" y="229.7725" font-size="5.89" font-weight="bold" text-anchor="middle" fill="#000" stroke="#000" stroke-width="0.18">-</text>
<text x="233.35" y="229.7725" font-size="4.75" font-weight="bold" text-anchor="middle" fill="#000" stroke="#000" stroke-width="0.67">+</text>
<text x="246.15" y="229.7725" font-size="4.75" font-weight="bold" text-anchor="middle" fill="#000" stroke="#000" stroke-width="0.67">+</text>
<text x="194.75" y="234.2725" font-size="5.89" font-weight="bold" text-anchor="middle" fill="#000" stroke="#000" stroke-width="0.18">-</text>
<text x="207.45" y="234.2725" font-size="4.75" font-weight="bold" text-anchor="middle" fill="#000" stroke="#000" stroke-width="0.67">+</text>
<text x="220.45" y="234.2725" font-size="4.75" font-weight="bold" text-anchor="middle" fill="#000" stroke="#000" stroke-width="0.67">+</text>
<text x="233.35" y="234.2725" font-size="5.89" font-weight="bold" text-anchor="middle" fill="#000" stroke="#000" stroke-width="0.18">-</text>
<text x="246.15" y="234.2725" font-size="4.75" font-weight="bold" text-anchor="middle" fill="#000" stroke="#000" stroke-width="0.67">+</text>
<line x1="191.7" y1="235.8" x2="206" y2="235.8" stroke="#333" stroke-width="0.6"/>
<text x="199" y="240.0" font-size="3.4" font-weight="bold" text-anchor="middle" fill="#1c1c1c" stroke="#1c1c1c" stroke-width="0.12" textLength="8.8" lengthAdjust="spacingAndGlyphs">siCtrl</text>
<line x1="217.7" y1="236.2" x2="223.5" y2="236.2" stroke="#333" stroke-width="0.6"/>
<text x="217.6" y="242.0" font-size="3.4" font-weight="bold" text-anchor="middle" fill="#1c1c1c" stroke="#1c1c1c" stroke-width="0.12" textLength="21.4" lengthAdjust="spacingAndGlyphs">si5-HT<tspan font-size="62%" dy="0.22em">2A,2B</tspan><tspan dy="-0.14em">R</tspan></text>
<line x1="230.2" y1="235.8" x2="247.5" y2="235.8" stroke="#333" stroke-width="0.6"/>
<text x="240.8" y="240.0" font-size="3.4" font-weight="bold" text-anchor="middle" fill="#1c1c1c" stroke="#1c1c1c" stroke-width="0.12" textLength="9.6" lengthAdjust="spacingAndGlyphs">siCtrl</text>
<text x="282.0" y="125.3" font-size="14.8" font-weight="bold" text-anchor="start" fill="#000" stroke="#000" stroke-width="0.74" textLength="9.1" lengthAdjust="spacingAndGlyphs">c</text>
<rect x="371.00" y="110.60" width="149.00" height="31.20" fill="#ededed"/>
<line x1="371" y1="111.6" x2="520" y2="111.6" stroke="#cfcfcf" stroke-width="0.5"/>
<line x1="371" y1="141.6" x2="520" y2="141.6" stroke="#d8d8d8" stroke-width="0.5"/>
<rect x="371.00" y="121.00" width="149.00" height="2.20" fill="#f7f7f7"/>
<rect x="371.00" y="132.00" width="149.00" height="2.20" fill="#f7f7f7"/>
<rect x="371.70" y="113.80" width="19.70" height="5.00" rx="5.04" ry="2.50" fill="#444" opacity="0.19" filter="url(#bl2)"/>
<rect x="372.30" y="114.50" width="18.50" height="3.60" rx="4.68" ry="1.80" fill="#050505" opacity="0.85" filter="url(#bl)"/>
<rect x="371.70" y="125.40" width="19.70" height="5.20" rx="5.32" ry="2.60" fill="#444" opacity="0.20" filter="url(#bl2)"/>
<rect x="372.30" y="126.10" width="18.50" height="3.80" rx="4.94" ry="1.90" fill="#050505" opacity="0.9" filter="url(#bl)"/>
<rect x="371.70" y="134.80" width="19.70" height="6.00" rx="6.44" ry="3.00" fill="#444" opacity="0.22" filter="url(#bl2)"/>
<rect x="372.30" y="135.50" width="18.50" height="4.60" rx="5.98" ry="2.30" fill="#050505" opacity="1" filter="url(#bl)"/>
<rect x="393.20" y="113.20" width="19.70" height="6.20" rx="6.72" ry="3.10" fill="#444" opacity="0.22" filter="url(#bl2)"/>
<rect x="393.80" y="113.90" width="18.50" height="4.80" rx="6.24" ry="2.40" fill="#050505" opacity="1" filter="url(#bl)"/>
<rect x="393.20" y="124.60" width="19.70" height="6.80" rx="7.56" ry="3.40" fill="#444" opacity="0.22" filter="url(#bl2)"/>
<rect x="393.80" y="125.30" width="18.50" height="5.40" rx="7.02" ry="2.70" fill="#050505" opacity="1" filter="url(#bl)"/>
<rect x="393.20" y="134.80" width="19.70" height="6.00" rx="6.44" ry="3.00" fill="#444" opacity="0.22" filter="url(#bl2)"/>
<rect x="393.80" y="135.50" width="18.50" height="4.60" rx="5.98" ry="2.30" fill="#050505" opacity="1" filter="url(#bl)"/>
<rect x="414.80" y="113.90" width="18.10" height="4.80" rx="4.76" ry="2.40" fill="#444" opacity="0.20" filter="url(#bl2)"/>
<rect x="415.40" y="114.60" width="16.90" height="3.40" rx="4.42" ry="1.70" fill="#050505" opacity="0.9" filter="url(#bl)"/>
<rect x="414.80" y="125.60" width="18.10" height="4.80" rx="4.76" ry="2.40" fill="#444" opacity="0.15" filter="url(#bl2)"/>
<rect x="415.40" y="126.30" width="16.90" height="3.40" rx="4.42" ry="1.70" fill="#050505" opacity="0.7" filter="url(#bl)"/>
<rect x="414.80" y="134.80" width="18.10" height="6.00" rx="6.44" ry="3.00" fill="#444" opacity="0.22" filter="url(#bl2)"/>
<rect x="415.40" y="135.50" width="16.90" height="4.60" rx="5.98" ry="2.30" fill="#050505" opacity="1" filter="url(#bl)"/>
<rect x="435.70" y="114.20" width="17.20" height="4.20" rx="3.92" ry="2.10" fill="#444" opacity="0.17" filter="url(#bl2)"/>
<rect x="436.30" y="114.90" width="16.00" height="2.80" rx="3.64" ry="1.40" fill="#050505" opacity="0.75" filter="url(#bl)"/>
<rect x="435.70" y="125.90" width="17.20" height="4.20" rx="3.92" ry="2.10" fill="#444" opacity="0.12" filter="url(#bl2)"/>
<rect x="436.30" y="126.60" width="16.00" height="2.80" rx="3.64" ry="1.40" fill="#050505" opacity="0.55" filter="url(#bl)"/>
<rect x="435.70" y="134.80" width="17.20" height="6.00" rx="6.44" ry="3.00" fill="#444" opacity="0.22" filter="url(#bl2)"/>
<rect x="436.30" y="135.50" width="16.00" height="4.60" rx="5.98" ry="2.30" fill="#050505" opacity="1" filter="url(#bl)"/>
<rect x="457.20" y="113.60" width="18.80" height="5.40" rx="5.60" ry="2.70" fill="#444" opacity="0.21" filter="url(#bl2)"/>
<rect x="457.80" y="114.30" width="17.60" height="4.00" rx="5.20" ry="2.00" fill="#050505" opacity="0.95" filter="url(#bl)"/>
<rect x="457.20" y="124.80" width="18.80" height="6.40" rx="7.00" ry="3.20" fill="#444" opacity="0.22" filter="url(#bl2)"/>
<rect x="457.80" y="125.50" width="17.60" height="5.00" rx="6.50" ry="2.50" fill="#050505" opacity="1" filter="url(#bl)"/>
<rect x="457.20" y="134.80" width="18.80" height="6.00" rx="6.44" ry="3.00" fill="#444" opacity="0.22" filter="url(#bl2)"/>
<rect x="457.80" y="135.50" width="17.60" height="4.60" rx="5.98" ry="2.30" fill="#050505" opacity="1" filter="url(#bl)"/>
<rect x="478.80" y="114.00" width="16.60" height="4.60" rx="4.48" ry="2.30" fill="#444" opacity="0.20" filter="url(#bl2)"/>
<rect x="479.40" y="114.70" width="15.40" height="3.20" rx="4.16" ry="1.60" fill="#050505" opacity="0.9" filter="url(#bl)"/>
<rect x="478.80" y="125.50" width="16.60" height="5.00" rx="5.04" ry="2.50" fill="#444" opacity="0.10" filter="url(#bl2)"/>
<rect x="479.40" y="126.20" width="15.40" height="3.60" rx="4.68" ry="1.80" fill="#050505" opacity="0.45" filter="url(#bl)"/>
<rect x="478.80" y="134.80" width="16.60" height="6.00" rx="6.44" ry="3.00" fill="#444" opacity="0.22" filter="url(#bl2)"/>
<rect x="479.40" y="135.50" width="15.40" height="4.60" rx="5.98" ry="2.30" fill="#050505" opacity="1" filter="url(#bl)"/>
<rect x="497.90" y="113.30" width="21.20" height="6.00" rx="6.44" ry="3.00" fill="#444" opacity="0.22" filter="url(#bl2)"/>
<rect x="498.50" y="114.00" width="20.00" height="4.60" rx="5.98" ry="2.30" fill="#050505" opacity="1" filter="url(#bl)"/>
<rect x="497.90" y="124.80" width="21.20" height="6.40" rx="7.00" ry="3.20" fill="#444" opacity="0.21" filter="url(#bl2)"/>
<rect x="498.50" y="125.50" width="20.00" height="5.00" rx="6.50" ry="2.50" fill="#050505" opacity="0.95" filter="url(#bl)"/>
<rect x="497.90" y="134.80" width="21.20" height="6.00" rx="6.44" ry="3.00" fill="#444" opacity="0.22" filter="url(#bl2)"/>
<rect x="498.50" y="135.50" width="20.00" height="4.60" rx="5.98" ry="2.30" fill="#050505" opacity="1" filter="url(#bl)"/>
<text x="368.8" y="120.0" font-size="8.2" font-weight="bold" text-anchor="end" fill="#000" stroke="#000" stroke-width="0.41" textLength="50" lengthAdjust="spacingAndGlyphs">PKCε(PM)</text>
<text x="368.8" y="130.4" font-size="8.2" font-weight="bold" text-anchor="end" fill="#000" stroke="#000" stroke-width="0.41" textLength="57.8" lengthAdjust="spacingAndGlyphs">GPAT1(PM)</text>
<text x="368.8" y="140.4" font-size="8.2" font-weight="bold" text-anchor="end" fill="#000" stroke="#000" stroke-width="0.41" textLength="96.3" lengthAdjust="spacingAndGlyphs">Na<tspan font-size="60%" dy="-0.45em">+</tspan><tspan dy="0.27em">-K</tspan><tspan font-size="60%" dy="-0.45em">+</tspan><tspan dy="0.27em">-ATPase(PM)</tspan></text>
<text x="370" y="150.0" font-size="7.4" text-anchor="end" fill="#000" stroke="#000" stroke-width="0.35" textLength="42" lengthAdjust="spacingAndGlyphs">Triacsin C</text>
<text x="370" y="158.3" font-size="7.4" text-anchor="end" fill="#000" stroke="#000" stroke-width="0.35" textLength="36.2" lengthAdjust="spacingAndGlyphs">U-73122</text>
<text x="370" y="166.6" font-size="7.4" text-anchor="end" fill="#000" stroke="#000" stroke-width="0.35" textLength="14" lengthAdjust="spacingAndGlyphs">PA</text>
<text x="381.5" y="149.7375" font-size="7.75" font-weight="bold" text-anchor="middle" fill="#000" stroke="#000" stroke-width="0.23">-</text>
<text x="402.5" y="149.7375" font-size="7.75" font-weight="bold" text-anchor="middle" fill="#000" stroke="#000" stroke-width="0.23">-</text>
<text x="424" y="149.7375" font-size="7.75" font-weight="bold" text-anchor="middle" fill="#000" stroke="#000" stroke-width="0.23">-</text>
<text x="445" y="149.7375" font-size="7.75" font-weight="bold" text-anchor="middle" fill="#000" stroke="#000" stroke-width="0.23">-</text>
<text x="465" y="149.7375" font-size="7.75" font-weight="bold" text-anchor="middle" fill="#000" stroke="#000" stroke-width="0.23">-</text>
<text x="486" y="149.7375" font-size="6.25" font-weight="bold" text-anchor="middle" fill="#000" stroke="#000" stroke-width="0.88">+</text>
<text x="507" y="149.7375" font-size="6.25" font-weight="bold" text-anchor="middle" fill="#000" stroke="#000" stroke-width="0.88">+</text>
<text x="381.5" y="157.9375" font-size="7.75" font-weight="bold" text-anchor="middle" fill="#000" stroke="#000" stroke-width="0.23">-</text>
<text x="402.5" y="157.9375" font-size="7.75" font-weight="bold" text-anchor="middle" fill="#000" stroke="#000" stroke-width="0.23">-</text>
<text x="424" y="157.9375" font-size="7.75" font-weight="bold" text-anchor="middle" fill="#000" stroke="#000" stroke-width="0.23">-</text>
<text x="445" y="157.9375" font-size="6.25" font-weight="bold" text-anchor="middle" fill="#000" stroke="#000" stroke-width="0.88">+</text>
<text x="465" y="157.9375" font-size="6.25" font-weight="bold" text-anchor="middle" fill="#000" stroke="#000" stroke-width="0.88">+</text>
<text x="486" y="157.9375" font-size="7.75" font-weight="bold" text-anchor="middle" fill="#000" stroke="#000" stroke-width="0.23">-</text>
<text x="507" y="157.9375" font-size="7.75" font-weight="bold" text-anchor="middle" fill="#000" stroke="#000" stroke-width="0.23">-</text>
<text x="381.5" y="165.7375" font-size="7.75" font-weight="bold" text-anchor="middle" fill="#000" stroke="#000" stroke-width="0.23">-</text>
<text x="402.5" y="165.7375" font-size="6.25" font-weight="bold" text-anchor="middle" fill="#000" stroke="#000" stroke-width="0.88">+</text>
<text x="424" y="165.7375" font-size="6.25" font-weight="bold" text-anchor="middle" fill="#000" stroke="#000" stroke-width="0.88">+</text>
<text x="445" y="165.7375" font-size="7.75" font-weight="bold" text-anchor="middle" fill="#000" stroke="#000" stroke-width="0.23">-</text>
<text x="465" y="165.7375" font-size="6.25" font-weight="bold" text-anchor="middle" fill="#000" stroke="#000" stroke-width="0.88">+</text>
<text x="486" y="165.7375" font-size="7.75" font-weight="bold" text-anchor="middle" fill="#000" stroke="#000" stroke-width="0.23">-</text>
<text x="507" y="165.7375" font-size="6.25" font-weight="bold" text-anchor="middle" fill="#000" stroke="#000" stroke-width="0.88">+</text>
<line x1="378.5" y1="168.3" x2="400" y2="168.3" stroke="#444" stroke-width="0.6"/>
<text x="390.7" y="173.6" font-size="5.4" text-anchor="middle" fill="#111" stroke="#111" stroke-width="0.16" textLength="15.5" lengthAdjust="spacingAndGlyphs">siCtrl</text>
<line x1="417" y1="168.3" x2="432.3" y2="168.3" stroke="#444" stroke-width="0.6"/>
<text x="425" y="174.6" font-size="5.6" text-anchor="middle" fill="#111" stroke="#111" stroke-width="0.17" textLength="39" lengthAdjust="spacingAndGlyphs">si5-HT<tspan font-size="62%" dy="0.22em">2A,2B</tspan><tspan dy="-0.14em">R</tspan></text>
<line x1="440" y1="168.3" x2="514" y2="168.3" stroke="#444" stroke-width="0.6"/>
<text x="476.6" y="173.6" font-size="5.4" text-anchor="middle" fill="#111" stroke="#111" stroke-width="0.16" textLength="17.8" lengthAdjust="spacingAndGlyphs">siCtrl</text>
<rect x="342.80" y="227.70" width="6.20" height="16.60" fill="#686868" stroke="#3c3c3c" stroke-width="0.45"/>
<line x1="345.9" y1="227.5" x2="345.9" y2="227.0" stroke="#333" stroke-width="0.5"/>
<line x1="344.4" y1="227.0" x2="347.4" y2="227.0" stroke="#333" stroke-width="0.5"/>
<rect x="352.05" y="204.45" width="6.40" height="39.85" fill="#686868" stroke="#3c3c3c" stroke-width="0.45"/>
<line x1="355.25" y1="204.25" x2="355.25" y2="203.05" stroke="#333" stroke-width="0.5"/>
<line x1="353.75" y1="203.05" x2="356.75" y2="203.05" stroke="#333" stroke-width="0.5"/>
<rect x="361.05" y="222.70" width="6.65" height="21.60" fill="#686868" stroke="#3c3c3c" stroke-width="0.45"/>
<line x1="364.375" y1="222.5" x2="364.375" y2="221.7" stroke="#333" stroke-width="0.5"/>
<line x1="362.875" y1="221.7" x2="365.875" y2="221.7" stroke="#333" stroke-width="0.5"/>
<rect x="370.30" y="230.70" width="6.40" height="13.60" fill="#686868" stroke="#3c3c3c" stroke-width="0.45"/>
<line x1="373.5" y1="230.5" x2="373.5" y2="228.9" stroke="#333" stroke-width="0.5"/>
<line x1="372.0" y1="228.9" x2="375.0" y2="228.9" stroke="#333" stroke-width="0.5"/>
<rect x="379.30" y="218.20" width="6.60" height="26.10" fill="#686868" stroke="#3c3c3c" stroke-width="0.45"/>
<line x1="382.6" y1="218" x2="382.6" y2="216.2" stroke="#333" stroke-width="0.5"/>
<line x1="381.1" y1="216.2" x2="384.1" y2="216.2" stroke="#333" stroke-width="0.5"/>
<rect x="388.50" y="225.95" width="6.70" height="18.35" fill="#686868" stroke="#3c3c3c" stroke-width="0.45"/>
<line x1="391.85" y1="225.75" x2="391.85" y2="224.15" stroke="#333" stroke-width="0.5"/>
<line x1="390.35" y1="224.15" x2="393.35" y2="224.15" stroke="#333" stroke-width="0.5"/>
<rect x="397.80" y="207.70" width="6.40" height="36.60" fill="#686868" stroke="#3c3c3c" stroke-width="0.45"/>
<line x1="401.0" y1="207.5" x2="401.0" y2="206.3" stroke="#333" stroke-width="0.5"/>
<line x1="399.5" y1="206.3" x2="402.5" y2="206.3" stroke="#333" stroke-width="0.5"/>
<line x1="340.5" y1="199" x2="340.5" y2="244.60000000000002" stroke="#111" stroke-width="0.8"/>
<line x1="338.7" y1="200.5" x2="340.5" y2="200.5" stroke="#111" stroke-width="0.7"/>
<text x="339" y="202.156" font-size="4.6" font-weight="bold" text-anchor="end" fill="#000" stroke="#000" stroke-width="0.23" textLength="7.599999999999999" lengthAdjust="spacingAndGlyphs">2.5</text>
<line x1="338.7" y1="209.3" x2="340.5" y2="209.3" stroke="#111" stroke-width="0.7"/>
<text x="339" y="210.95600000000002" font-size="4.6" font-weight="bold" text-anchor="end" fill="#000" stroke="#000" stroke-width="0.23" textLength="7.599999999999999" lengthAdjust="spacingAndGlyphs">2.0</text>
<line x1="338.7" y1="218.1" x2="340.5" y2="218.1" stroke="#111" stroke-width="0.7"/>
<text x="339" y="219.756" font-size="4.6" font-weight="bold" text-anchor="end" fill="#000" stroke="#000" stroke-width="0.23" textLength="7.599999999999999" lengthAdjust="spacingAndGlyphs">1.5</text>
<line x1="338.7" y1="226.8" x2="340.5" y2="226.8" stroke="#111" stroke-width="0.7"/>
<text x="339" y="228.45600000000002" font-size="4.6" font-weight="bold" text-anchor="end" fill="#000" stroke="#000" stroke-width="0.23" textLength="7.599999999999999" lengthAdjust="spacingAndGlyphs">1.0</text>
<line x1="338.7" y1="235.6" x2="340.5" y2="235.6" stroke="#111" stroke-width="0.7"/>
<text x="339" y="237.256" font-size="4.6" font-weight="bold" text-anchor="end" fill="#000" stroke="#000" stroke-width="0.23" textLength="7.599999999999999" lengthAdjust="spacingAndGlyphs">0.5</text>
<line x1="338.7" y1="244.3" x2="340.5" y2="244.3" stroke="#111" stroke-width="0.7"/>
<text x="339" y="245.95600000000002" font-size="4.6" font-weight="bold" text-anchor="end" fill="#000" stroke="#000" stroke-width="0.23" textLength="7.599999999999999" lengthAdjust="spacingAndGlyphs">0.0</text>
<line x1="340.1" y1="244.3" x2="405.5" y2="244.3" stroke="#111" stroke-width="0.8"/>
<text x="375" y="183.2" font-size="5.4" font-weight="bold" text-anchor="middle" fill="#000" stroke="#000" stroke-width="0.27" textLength="18" lengthAdjust="spacingAndGlyphs">PKCε</text>
<text x="321.0" y="222" font-size="5.2" font-weight="bold" text-anchor="middle" fill="#000" stroke="#000" stroke-width="0.26" textLength="34" lengthAdjust="spacingAndGlyphs" transform="rotate(-90 321.0 222)">Fold increase</text>
<text x="327.8" y="222" font-size="5.2" font-weight="bold" text-anchor="middle" fill="#000" stroke="#000" stroke-width="0.26" textLength="30" lengthAdjust="spacingAndGlyphs" transform="rotate(-90 327.8 222)">above basal</text>
<polyline points="346,226.5 346,189.4 403.75,189.4" fill="none" stroke="#222" stroke-width="0.55"/>
<text x="355.5" y="190.86007999999998" font-size="5.5440000000000005" font-weight="bold" text-anchor="middle" fill="#000" stroke="#000" stroke-width="0.28" textLength="5.100480000000001" lengthAdjust="spacingAndGlyphs">**</text>
<text x="365" y="190.86007999999998" font-size="5.5440000000000005" font-weight="bold" text-anchor="middle" fill="#000" stroke="#000" stroke-width="0.28" textLength="5.100480000000001" lengthAdjust="spacingAndGlyphs">**</text>
<text x="373.75" y="190.86007999999998" font-size="5.5440000000000005" font-weight="bold" text-anchor="middle" fill="#000" stroke="#000" stroke-width="0.28">*</text>
<text x="383" y="190.86007999999998" font-size="5.5440000000000005" font-weight="bold" text-anchor="middle" fill="#000" stroke="#000" stroke-width="0.28" textLength="5.100480000000001" lengthAdjust="spacingAndGlyphs">**</text>
<text x="393" y="189.296" font-size="4.41" font-weight="bold" text-anchor="middle" fill="#1c1c1c" stroke="#1c1c1c" stroke-width="0.34" textLength="5.460000000000001" lengthAdjust="spacingAndGlyphs">NS</text>
<text x="401" y="190.86007999999998" font-size="5.5440000000000005" font-weight="bold" text-anchor="middle" fill="#000" stroke="#000" stroke-width="0.28" textLength="5.100480000000001" lengthAdjust="spacingAndGlyphs">**</text>
<polyline points="355,203 355,195.6 403.75,195.6" fill="none" stroke="#222" stroke-width="0.55"/>
<text x="365" y="196.76008" font-size="5.5440000000000005" font-weight="bold" text-anchor="middle" fill="#000" stroke="#000" stroke-width="0.28" textLength="5.100480000000001" lengthAdjust="spacingAndGlyphs">**</text>
<text x="383" y="196.76008" font-size="5.5440000000000005" font-weight="bold" text-anchor="middle" fill="#000" stroke="#000" stroke-width="0.28" textLength="5.100480000000001" lengthAdjust="spacingAndGlyphs">**</text>
<text x="400.5" y="195.196" font-size="4.41" font-weight="bold" text-anchor="middle" fill="#1c1c1c" stroke="#1c1c1c" stroke-width="0.34" textLength="5.460000000000001" lengthAdjust="spacingAndGlyphs">NS</text>
<polyline points="392.5,224 392.5,203 403.75,203" fill="none" stroke="#222" stroke-width="0.55"/>
<text x="401" y="204.46008" font-size="5.5440000000000005" font-weight="bold" text-anchor="middle" fill="#000" stroke="#000" stroke-width="0.28" textLength="5.100480000000001" lengthAdjust="spacingAndGlyphs">**</text>
<polyline points="373.75,228.5 373.75,213 384,213" fill="none" stroke="#222" stroke-width="0.55"/>
<text x="383" y="214.36007999999998" font-size="5.5440000000000005" font-weight="bold" text-anchor="middle" fill="#000" stroke="#000" stroke-width="0.28" textLength="5.100480000000001" lengthAdjust="spacingAndGlyphs">**</text>
<text x="339.8" y="250.34" font-size="4.0" font-weight="bold" text-anchor="end" fill="#1c1c1c" stroke="#1c1c1c" stroke-width="0.14" textLength="24.5" lengthAdjust="spacingAndGlyphs">Triacsin C</text>
<text x="345.9" y="250.5275" font-size="6.510000000000001" font-weight="bold" text-anchor="middle" fill="#000" stroke="#000" stroke-width="0.20">-</text>
<text x="355.25" y="250.5275" font-size="6.510000000000001" font-weight="bold" text-anchor="middle" fill="#000" stroke="#000" stroke-width="0.20">-</text>
<text x="364.375" y="250.5275" font-size="6.510000000000001" font-weight="bold" text-anchor="middle" fill="#000" stroke="#000" stroke-width="0.20">-</text>
<text x="373.5" y="250.5275" font-size="6.510000000000001" font-weight="bold" text-anchor="middle" fill="#000" stroke="#000" stroke-width="0.20">-</text>
<text x="382.6" y="250.5275" font-size="6.510000000000001" font-weight="bold" text-anchor="middle" fill="#000" stroke="#000" stroke-width="0.20">-</text>
<text x="391.85" y="250.5275" font-size="5.25" font-weight="bold" text-anchor="middle" fill="#000" stroke="#000" stroke-width="0.74">+</text>
<text x="401.0" y="250.5275" font-size="5.25" font-weight="bold" text-anchor="middle" fill="#000" stroke="#000" stroke-width="0.74">+</text>
<text x="339.8" y="255.04" font-size="4.0" font-weight="bold" text-anchor="end" fill="#1c1c1c" stroke="#1c1c1c" stroke-width="0.14" textLength="19.5" lengthAdjust="spacingAndGlyphs">U-73122</text>
<text x="345.9" y="255.2275" font-size="6.510000000000001" font-weight="bold" text-anchor="middle" fill="#000" stroke="#000" stroke-width="0.20">-</text>
<text x="355.25" y="255.2275" font-size="6.510000000000001" font-weight="bold" text-anchor="middle" fill="#000" stroke="#000" stroke-width="0.20">-</text>
<text x="364.375" y="255.2275" font-size="6.510000000000001" font-weight="bold" text-anchor="middle" fill="#000" stroke="#000" stroke-width="0.20">-</text>
<text x="373.5" y="255.2275" font-size="5.25" font-weight="bold" text-anchor="middle" fill="#000" stroke="#000" stroke-width="0.74">+</text>
<text x="382.6" y="255.2275" font-size="5.25" font-weight="bold" text-anchor="middle" fill="#000" stroke="#000" stroke-width="0.74">+</text>
<text x="391.85" y="255.2275" font-size="6.510000000000001" font-weight="bold" text-anchor="middle" fill="#000" stroke="#000" stroke-width="0.20">-</text>
<text x="401.0" y="255.2275" font-size="6.510000000000001" font-weight="bold" text-anchor="middle" fill="#000" stroke="#000" stroke-width="0.20">-</text>
<text x="339.8" y="259.64" font-size="4.0" font-weight="bold" text-anchor="end" fill="#1c1c1c" stroke="#1c1c1c" stroke-width="0.14" textLength="6.5" lengthAdjust="spacingAndGlyphs">PA</text>
<text x="345.9" y="259.8275" font-size="6.510000000000001" font-weight="bold" text-anchor="middle" fill="#000" stroke="#000" stroke-width="0.20">-</text>
<text x="355.25" y="259.8275" font-size="5.25" font-weight="bold" text-anchor="middle" fill="#000" stroke="#000" stroke-width="0.74">+</text>
<text x="364.375" y="259.8275" font-size="5.25" font-weight="bold" text-anchor="middle" fill="#000" stroke="#000" stroke-width="0.74">+</text>
<text x="373.5" y="259.8275" font-size="6.510000000000001" font-weight="bold" text-anchor="middle" fill="#000" stroke="#000" stroke-width="0.20">-</text>
<text x="382.6" y="259.8275" font-size="5.25" font-weight="bold" text-anchor="middle" fill="#000" stroke="#000" stroke-width="0.74">+</text>
<text x="391.85" y="259.8275" font-size="6.510000000000001" font-weight="bold" text-anchor="middle" fill="#000" stroke="#000" stroke-width="0.20">-</text>
<text x="401.0" y="259.8275" font-size="5.25" font-weight="bold" text-anchor="middle" fill="#000" stroke="#000" stroke-width="0.74">+</text>
<line x1="344.0" y1="260.75" x2="358.75" y2="260.75" stroke="#333" stroke-width="0.6"/>
<line x1="361.75" y1="260.75" x2="367" y2="260.75" stroke="#333" stroke-width="0.6"/>
<line x1="371.5" y1="260.75" x2="404.0" y2="260.75" stroke="#333" stroke-width="0.6"/>
<text x="350.625" y="264.8" font-size="3.4" font-weight="bold" text-anchor="middle" fill="#1c1c1c" stroke="#1c1c1c" stroke-width="0.12" textLength="10" lengthAdjust="spacingAndGlyphs">siCtrl</text>
<text x="364.375" y="268.9" font-size="3.4" font-weight="bold" text-anchor="middle" fill="#1c1c1c" stroke="#1c1c1c" stroke-width="0.12" textLength="22.5" lengthAdjust="spacingAndGlyphs">si5-HT<tspan font-size="62%" dy="0.22em">2A,2B</tspan><tspan dy="-0.14em">R</tspan></text>
<text x="386.05" y="264.8" font-size="3.4" font-weight="bold" text-anchor="middle" fill="#1c1c1c" stroke="#1c1c1c" stroke-width="0.12" textLength="10" lengthAdjust="spacingAndGlyphs">siCtrl</text>
<rect x="442.80" y="230.20" width="6.40" height="14.10" fill="#686868" stroke="#3c3c3c" stroke-width="0.45"/>
<line x1="446.0" y1="230" x2="446.0" y2="229.5" stroke="#333" stroke-width="0.5"/>
<line x1="444.5" y1="229.5" x2="447.5" y2="229.5" stroke="#333" stroke-width="0.5"/>
<rect x="452.30" y="208.20" width="6.40" height="36.10" fill="#686868" stroke="#3c3c3c" stroke-width="0.45"/>
<line x1="455.5" y1="208" x2="455.5" y2="205.8" stroke="#333" stroke-width="0.5"/>
<line x1="454.0" y1="205.8" x2="457.0" y2="205.8" stroke="#333" stroke-width="0.5"/>
<rect x="461.30" y="225.95" width="6.40" height="18.35" fill="#686868" stroke="#3c3c3c" stroke-width="0.45"/>
<line x1="464.5" y1="225.75" x2="464.5" y2="224.95" stroke="#333" stroke-width="0.5"/>
<line x1="463.0" y1="224.95" x2="466.0" y2="224.95" stroke="#333" stroke-width="0.5"/>
<rect x="470.80" y="231.95" width="6.40" height="12.35" fill="#686868" stroke="#3c3c3c" stroke-width="0.45"/>
<line x1="474.0" y1="231.75" x2="474.0" y2="230.75" stroke="#333" stroke-width="0.5"/>
<line x1="472.5" y1="230.75" x2="475.5" y2="230.75" stroke="#333" stroke-width="0.5"/>
<rect x="479.80" y="218.95" width="6.65" height="25.35" fill="#686868" stroke="#3c3c3c" stroke-width="0.45"/>
<line x1="483.125" y1="218.75" x2="483.125" y2="217.55" stroke="#333" stroke-width="0.5"/>
<line x1="481.625" y1="217.55" x2="484.625" y2="217.55" stroke="#333" stroke-width="0.5"/>
<rect x="489.30" y="235.20" width="6.15" height="9.10" fill="#686868" stroke="#3c3c3c" stroke-width="0.45"/>
<line x1="492.375" y1="235" x2="492.375" y2="233.4" stroke="#333" stroke-width="0.5"/>
<line x1="490.875" y1="233.4" x2="493.875" y2="233.4" stroke="#333" stroke-width="0.5"/>
<rect x="498.30" y="223.20" width="6.40" height="21.10" fill="#686868" stroke="#3c3c3c" stroke-width="0.45"/>
<line x1="501.5" y1="223" x2="501.5" y2="221.4" stroke="#333" stroke-width="0.5"/>
<line x1="500.0" y1="221.4" x2="503.0" y2="221.4" stroke="#333" stroke-width="0.5"/>
<line x1="441.25" y1="198" x2="441.25" y2="244.60000000000002" stroke="#111" stroke-width="0.8"/>
<line x1="439.45" y1="200.1" x2="441.25" y2="200.1" stroke="#111" stroke-width="0.7"/>
<text x="439.6" y="201.97199999999998" font-size="5.2" font-weight="bold" text-anchor="end" fill="#000" stroke="#000" stroke-width="0.26">3</text>
<line x1="439.45" y1="214.9" x2="441.25" y2="214.9" stroke="#111" stroke-width="0.7"/>
<text x="439.6" y="216.772" font-size="5.2" font-weight="bold" text-anchor="end" fill="#000" stroke="#000" stroke-width="0.26">2</text>
<line x1="439.45" y1="229.7" x2="441.25" y2="229.7" stroke="#111" stroke-width="0.7"/>
<text x="439.6" y="231.572" font-size="5.2" font-weight="bold" text-anchor="end" fill="#000" stroke="#000" stroke-width="0.26">1</text>
<line x1="439.45" y1="244.4" x2="441.25" y2="244.4" stroke="#111" stroke-width="0.7"/>
<text x="439.6" y="246.272" font-size="5.2" font-weight="bold" text-anchor="end" fill="#000" stroke="#000" stroke-width="0.26">0</text>
<line x1="440.85" y1="244.3" x2="506" y2="244.3" stroke="#111" stroke-width="0.8"/>
<text x="473.3" y="186.0" font-size="5.6" font-weight="bold" text-anchor="middle" fill="#000" stroke="#000" stroke-width="0.28" textLength="22" lengthAdjust="spacingAndGlyphs">GPAT1</text>
<text x="426.8" y="221" font-size="5.4" font-weight="bold" text-anchor="middle" fill="#000" stroke="#000" stroke-width="0.27" textLength="33.5" lengthAdjust="spacingAndGlyphs" transform="rotate(-90 426.8 221)">Fold increase</text>
<text x="433.3" y="221" font-size="5.4" font-weight="bold" text-anchor="middle" fill="#000" stroke="#000" stroke-width="0.27" textLength="29.5" lengthAdjust="spacingAndGlyphs" transform="rotate(-90 433.3 221)">above basal</text>
<polyline points="446,228.75 446,193 503.75,193" fill="none" stroke="#222" stroke-width="0.55"/>
<text x="455.5" y="194.66008" font-size="5.5440000000000005" font-weight="bold" text-anchor="middle" fill="#000" stroke="#000" stroke-width="0.28" textLength="5.100480000000001" lengthAdjust="spacingAndGlyphs">**</text>
<text x="465" y="194.66008" font-size="5.5440000000000005" font-weight="bold" text-anchor="middle" fill="#000" stroke="#000" stroke-width="0.28">*</text>
<text x="473" y="193.096" font-size="4.41" font-weight="bold" text-anchor="middle" fill="#1c1c1c" stroke="#1c1c1c" stroke-width="0.34" textLength="5.460000000000001" lengthAdjust="spacingAndGlyphs">NS</text>
<text x="483.5" y="194.66008" font-size="5.5440000000000005" font-weight="bold" text-anchor="middle" fill="#000" stroke="#000" stroke-width="0.28" textLength="5.100480000000001" lengthAdjust="spacingAndGlyphs">**</text>
<text x="493" y="194.66008" font-size="5.5440000000000005" font-weight="bold" text-anchor="middle" fill="#000" stroke="#000" stroke-width="0.28" textLength="5.100480000000001" lengthAdjust="spacingAndGlyphs">**</text>
<text x="501" y="194.66008" font-size="5.5440000000000005" font-weight="bold" text-anchor="middle" fill="#000" stroke="#000" stroke-width="0.28" textLength="5.100480000000001" lengthAdjust="spacingAndGlyphs">**</text>
<polyline points="455.5,206 455.5,199.25 503.75,199.25" fill="none" stroke="#222" stroke-width="0.55"/>
<text x="465" y="200.56008" font-size="5.5440000000000005" font-weight="bold" text-anchor="middle" fill="#000" stroke="#000" stroke-width="0.28" textLength="5.100480000000001" lengthAdjust="spacingAndGlyphs">**</text>
<text x="483.5" y="200.56008" font-size="5.5440000000000005" font-weight="bold" text-anchor="middle" fill="#000" stroke="#000" stroke-width="0.28" textLength="5.100480000000001" lengthAdjust="spacingAndGlyphs">**</text>
<text x="501" y="200.56008" font-size="5.5440000000000005" font-weight="bold" text-anchor="middle" fill="#000" stroke="#000" stroke-width="0.28" textLength="5.100480000000001" lengthAdjust="spacingAndGlyphs">**</text>
<polyline points="474.25,230.5 474.25,213 486,213" fill="none" stroke="#222" stroke-width="0.55"/>
<text x="483.5" y="214.56008" font-size="5.5440000000000005" font-weight="bold" text-anchor="middle" fill="#000" stroke="#000" stroke-width="0.28" textLength="5.100480000000001" lengthAdjust="spacingAndGlyphs">**</text>
<polyline points="492.5,233.75 492.5,216.8 503.75,216.8" fill="none" stroke="#222" stroke-width="0.55"/>
<text x="501" y="218.36007999999998" font-size="5.5440000000000005" font-weight="bold" text-anchor="middle" fill="#000" stroke="#000" stroke-width="0.28" textLength="5.100480000000001" lengthAdjust="spacingAndGlyphs">**</text>
<text x="440.4" y="250.64" font-size="4.0" font-weight="bold" text-anchor="end" fill="#1c1c1c" stroke="#1c1c1c" stroke-width="0.14" textLength="24" lengthAdjust="spacingAndGlyphs">Triacsin C</text>
<text x="446.0" y="250.8275" font-size="6.510000000000001" font-weight="bold" text-anchor="middle" fill="#000" stroke="#000" stroke-width="0.20">-</text>
<text x="455.5" y="250.8275" font-size="6.510000000000001" font-weight="bold" text-anchor="middle" fill="#000" stroke="#000" stroke-width="0.20">-</text>
<text x="464.5" y="250.8275" font-size="6.510000000000001" font-weight="bold" text-anchor="middle" fill="#000" stroke="#000" stroke-width="0.20">-</text>
<text x="474.0" y="250.8275" font-size="6.510000000000001" font-weight="bold" text-anchor="middle" fill="#000" stroke="#000" stroke-width="0.20">-</text>
<text x="483.125" y="250.8275" font-size="6.510000000000001" font-weight="bold" text-anchor="middle" fill="#000" stroke="#000" stroke-width="0.20">-</text>
<text x="492.375" y="250.8275" font-size="5.25" font-weight="bold" text-anchor="middle" fill="#000" stroke="#000" stroke-width="0.74">+</text>
<text x="501.5" y="250.8275" font-size="5.25" font-weight="bold" text-anchor="middle" fill="#000" stroke="#000" stroke-width="0.74">+</text>
<text x="440.4" y="255.24" font-size="4.0" font-weight="bold" text-anchor="end" fill="#1c1c1c" stroke="#1c1c1c" stroke-width="0.14" textLength="19.5" lengthAdjust="spacingAndGlyphs">U-73122</text>
<text x="446.0" y="255.4275" font-size="6.510000000000001" font-weight="bold" text-anchor="middle" fill="#000" stroke="#000" stroke-width="0.20">-</text>
<text x="455.5" y="255.4275" font-size="6.510000000000001" font-weight="bold" text-anchor="middle" fill="#000" stroke="#000" stroke-width="0.20">-</text>
<text x="464.5" y="255.4275" font-size="6.510000000000001" font-weight="bold" text-anchor="middle" fill="#000" stroke="#000" stroke-width="0.20">-</text>
<text x="474.0" y="255.4275" font-size="5.25" font-weight="bold" text-anchor="middle" fill="#000" stroke="#000" stroke-width="0.74">+</text>
<text x="483.125" y="255.4275" font-size="5.25" font-weight="bold" text-anchor="middle" fill="#000" stroke="#000" stroke-width="0.74">+</text>
<text x="492.375" y="255.4275" font-size="6.510000000000001" font-weight="bold" text-anchor="middle" fill="#000" stroke="#000" stroke-width="0.20">-</text>
<text x="501.5" y="255.4275" font-size="6.510000000000001" font-weight="bold" text-anchor="middle" fill="#000" stroke="#000" stroke-width="0.20">-</text>
<text x="440.4" y="259.64" font-size="4.0" font-weight="bold" text-anchor="end" fill="#1c1c1c" stroke="#1c1c1c" stroke-width="0.14" textLength="6.5" lengthAdjust="spacingAndGlyphs">PA</text>
<text x="446.0" y="259.8275" font-size="6.510000000000001" font-weight="bold" text-anchor="middle" fill="#000" stroke="#000" stroke-width="0.20">-</text>
<text x="455.5" y="259.8275" font-size="5.25" font-weight="bold" text-anchor="middle" fill="#000" stroke="#000" stroke-width="0.74">+</text>
<text x="464.5" y="259.8275" font-size="5.25" font-weight="bold" text-anchor="middle" fill="#000" stroke="#000" stroke-width="0.74">+</text>
<text x="474.0" y="259.8275" font-size="6.510000000000001" font-weight="bold" text-anchor="middle" fill="#000" stroke="#000" stroke-width="0.20">-</text>
<text x="483.125" y="259.8275" font-size="5.25" font-weight="bold" text-anchor="middle" fill="#000" stroke="#000" stroke-width="0.74">+</text>
<text x="492.375" y="259.8275" font-size="6.510000000000001" font-weight="bold" text-anchor="middle" fill="#000" stroke="#000" stroke-width="0.20">-</text>
<text x="501.5" y="259.8275" font-size="5.25" font-weight="bold" text-anchor="middle" fill="#000" stroke="#000" stroke-width="0.74">+</text>
<line x1="444.0" y1="260.75" x2="459" y2="260.75" stroke="#333" stroke-width="0.6"/>
<line x1="462" y1="260.75" x2="467" y2="260.75" stroke="#333" stroke-width="0.6"/>
<line x1="472.0" y1="260.75" x2="504.5" y2="260.75" stroke="#333" stroke-width="0.6"/>
<text x="450.75" y="264.8" font-size="3.4" font-weight="bold" text-anchor="middle" fill="#1c1c1c" stroke="#1c1c1c" stroke-width="0.12" textLength="10" lengthAdjust="spacingAndGlyphs">siCtrl</text>
<text x="464.75" y="268.9" font-size="3.4" font-weight="bold" text-anchor="middle" fill="#1c1c1c" stroke="#1c1c1c" stroke-width="0.12" textLength="22.5" lengthAdjust="spacingAndGlyphs">si5-HT<tspan font-size="62%" dy="0.22em">2A,2B</tspan><tspan dy="-0.14em">R</tspan></text>
<text x="486.425" y="264.8" font-size="3.4" font-weight="bold" text-anchor="middle" fill="#1c1c1c" stroke="#1c1c1c" stroke-width="0.12" textLength="10" lengthAdjust="spacingAndGlyphs">siCtrl</text>
<text x="10.2" y="256.3" font-size="13.8" font-weight="bold" text-anchor="start" fill="#000" stroke="#000" stroke-width="0.69" textLength="10.4" lengthAdjust="spacingAndGlyphs">d</text>
<rect x="33.55" y="293.32" width="6.15" height="25.08" fill="#686868" stroke="#3c3c3c" stroke-width="0.45"/>
<line x1="36.625" y1="293.12" x2="36.625" y2="291.72" stroke="#333" stroke-width="0.5"/>
<line x1="35.125" y1="291.72" x2="38.125" y2="291.72" stroke="#333" stroke-width="0.5"/>
<rect x="42.80" y="276.57" width="6.15" height="41.83" fill="#686868" stroke="#3c3c3c" stroke-width="0.45"/>
<line x1="45.875" y1="276.37199999999996" x2="45.875" y2="274.17199999999997" stroke="#333" stroke-width="0.5"/>
<line x1="44.375" y1="274.17199999999997" x2="47.375" y2="274.17199999999997" stroke="#333" stroke-width="0.5"/>
<rect x="52.30" y="289.21" width="6.15" height="29.19" fill="#686868" stroke="#3c3c3c" stroke-width="0.45"/>
<line x1="55.375" y1="289.012" x2="55.375" y2="287.812" stroke="#333" stroke-width="0.5"/>
<line x1="53.875" y1="287.812" x2="56.875" y2="287.812" stroke="#333" stroke-width="0.5"/>
<rect x="62.05" y="297.43" width="5.90" height="20.97" fill="#686868" stroke="#3c3c3c" stroke-width="0.45"/>
<line x1="65.0" y1="297.22799999999995" x2="65.0" y2="296.42799999999994" stroke="#333" stroke-width="0.5"/>
<line x1="63.5" y1="296.42799999999994" x2="66.5" y2="296.42799999999994" stroke="#333" stroke-width="0.5"/>
<rect x="71.55" y="286.68" width="6.40" height="31.72" fill="#686868" stroke="#3c3c3c" stroke-width="0.45"/>
<line x1="74.75" y1="286.484" x2="74.75" y2="283.88399999999996" stroke="#333" stroke-width="0.5"/>
<line x1="73.25" y1="283.88399999999996" x2="76.25" y2="283.88399999999996" stroke="#333" stroke-width="0.5"/>
<rect x="81.55" y="302.80" width="5.65" height="15.60" fill="#686868" stroke="#3c3c3c" stroke-width="0.45"/>
<line x1="84.375" y1="302.59999999999997" x2="84.375" y2="301.79999999999995" stroke="#333" stroke-width="0.5"/>
<line x1="82.875" y1="301.79999999999995" x2="85.875" y2="301.79999999999995" stroke="#333" stroke-width="0.5"/>
<rect x="90.80" y="288.58" width="6.40" height="29.82" fill="#686868" stroke="#3c3c3c" stroke-width="0.45"/>
<line x1="94.0" y1="288.38" x2="94.0" y2="286.18" stroke="#333" stroke-width="0.5"/>
<line x1="92.5" y1="286.18" x2="95.5" y2="286.18" stroke="#333" stroke-width="0.5"/>
<line x1="32" y1="269" x2="32" y2="318.7" stroke="#111" stroke-width="0.8"/>
<line x1="30.2" y1="270.6" x2="32" y2="270.6" stroke="#111" stroke-width="0.7"/>
<text x="29.4" y="272.32800000000003" font-size="4.8" font-weight="bold" text-anchor="end" fill="#000" stroke="#000" stroke-width="0.24" textLength="9.4" lengthAdjust="spacingAndGlyphs">150</text>
<line x1="30.2" y1="286.5" x2="32" y2="286.5" stroke="#111" stroke-width="0.7"/>
<text x="29.4" y="288.228" font-size="4.8" font-weight="bold" text-anchor="end" fill="#000" stroke="#000" stroke-width="0.24" textLength="9.4" lengthAdjust="spacingAndGlyphs">100</text>
<line x1="30.2" y1="302.4" x2="32" y2="302.4" stroke="#111" stroke-width="0.7"/>
<text x="29.4" y="304.128" font-size="4.8" font-weight="bold" text-anchor="end" fill="#000" stroke="#000" stroke-width="0.24" textLength="6.266666666666667" lengthAdjust="spacingAndGlyphs">50</text>
<line x1="30.2" y1="318.2" x2="32" y2="318.2" stroke="#111" stroke-width="0.7"/>
<text x="29.4" y="319.928" font-size="4.8" font-weight="bold" text-anchor="end" fill="#000" stroke="#000" stroke-width="0.24" textLength="3.1333333333333333" lengthAdjust="spacingAndGlyphs">0</text>
<line x1="31.6" y1="318.4" x2="98.2" y2="318.4" stroke="#111" stroke-width="0.8"/>
<text x="65" y="254.3" font-size="6.0" font-weight="bold" text-anchor="middle" fill="#000" stroke="#000" stroke-width="0.30" textLength="42.5" lengthAdjust="spacingAndGlyphs">DAG in cells</text>
<text x="17.5" y="293.2" font-size="5.2" font-weight="bold" text-anchor="middle" fill="#000" stroke="#000" stroke-width="0.26" textLength="40" lengthAdjust="spacingAndGlyphs" transform="rotate(-90 17.5 293.2)">pmol/g protein</text>
<polyline points="36.75,291.75 36.75,260.3 96.25,260.3" fill="none" stroke="#222" stroke-width="0.55"/>
<text x="46" y="261.91056000000003" font-size="5.808000000000001" font-weight="bold" text-anchor="middle" fill="#000" stroke="#000" stroke-width="0.29" textLength="5.3433600000000006" lengthAdjust="spacingAndGlyphs">**</text>
<text x="55.5" y="261.91056000000003" font-size="5.808000000000001" font-weight="bold" text-anchor="middle" fill="#000" stroke="#000" stroke-width="0.29">*</text>
<text x="65.25" y="261.91056000000003" font-size="5.808000000000001" font-weight="bold" text-anchor="middle" fill="#000" stroke="#000" stroke-width="0.29" textLength="5.3433600000000006" lengthAdjust="spacingAndGlyphs">**</text>
<text x="75.25" y="261.91056000000003" font-size="5.808000000000001" font-weight="bold" text-anchor="middle" fill="#000" stroke="#000" stroke-width="0.29" textLength="5.3433600000000006" lengthAdjust="spacingAndGlyphs">**</text>
<text x="84.75" y="261.91056000000003" font-size="5.808000000000001" font-weight="bold" text-anchor="middle" fill="#000" stroke="#000" stroke-width="0.29" textLength="5.3433600000000006" lengthAdjust="spacingAndGlyphs">**</text>
<text x="94.25" y="261.91056000000003" font-size="5.808000000000001" font-weight="bold" text-anchor="middle" fill="#000" stroke="#000" stroke-width="0.29">*</text>
<polyline points="46.25,273.5 46.25,266.25 96.25,266.25" fill="none" stroke="#222" stroke-width="0.55"/>
<text x="55.25" y="267.81056" font-size="5.808000000000001" font-weight="bold" text-anchor="middle" fill="#000" stroke="#000" stroke-width="0.29" textLength="5.3433600000000006" lengthAdjust="spacingAndGlyphs">**</text>
<text x="75.25" y="267.81056" font-size="5.808000000000001" font-weight="bold" text-anchor="middle" fill="#000" stroke="#000" stroke-width="0.29" textLength="5.3433600000000006" lengthAdjust="spacingAndGlyphs">**</text>
<text x="94" y="267.81056" font-size="5.808000000000001" font-weight="bold" text-anchor="middle" fill="#000" stroke="#000" stroke-width="0.29" textLength="5.3433600000000006" lengthAdjust="spacingAndGlyphs">**</text>
<polyline points="65,295.5 65,280 77.5,280" fill="none" stroke="#222" stroke-width="0.55"/>
<text x="75.25" y="281.56056" font-size="5.808000000000001" font-weight="bold" text-anchor="middle" fill="#000" stroke="#000" stroke-width="0.29" textLength="5.3433600000000006" lengthAdjust="spacingAndGlyphs">**</text>
<polyline points="84.5,301.25 84.5,283 96.25,283" fill="none" stroke="#222" stroke-width="0.55"/>
<text x="94" y="284.56056" font-size="5.808000000000001" font-weight="bold" text-anchor="middle" fill="#000" stroke="#000" stroke-width="0.29" textLength="5.3433600000000006" lengthAdjust="spacingAndGlyphs">**</text>
<text x="30.6" y="323.92" font-size="4.5" font-weight="bold" text-anchor="end" fill="#000" stroke="#000" stroke-width="0.23" textLength="26.8" lengthAdjust="spacingAndGlyphs">Triacsin C</text>
<text x="36.625" y="323.85" font-size="6.2" font-weight="bold" text-anchor="middle" fill="#000" stroke="#000" stroke-width="0.19">-</text>
<text x="45.875" y="323.85" font-size="6.2" font-weight="bold" text-anchor="middle" fill="#000" stroke="#000" stroke-width="0.19">-</text>
<text x="55.375" y="323.85" font-size="6.2" font-weight="bold" text-anchor="middle" fill="#000" stroke="#000" stroke-width="0.19">-</text>
<text x="65.0" y="323.85" font-size="6.2" font-weight="bold" text-anchor="middle" fill="#000" stroke="#000" stroke-width="0.19">-</text>
<text x="74.75" y="323.85" font-size="6.2" font-weight="bold" text-anchor="middle" fill="#000" stroke="#000" stroke-width="0.19">-</text>
<text x="84.375" y="323.85" font-size="5.0" font-weight="bold" text-anchor="middle" fill="#000" stroke="#000" stroke-width="0.70">+</text>
<text x="94.0" y="323.85" font-size="5.0" font-weight="bold" text-anchor="middle" fill="#000" stroke="#000" stroke-width="0.70">+</text>
<text x="30.6" y="328.92" font-size="4.5" font-weight="bold" text-anchor="end" fill="#000" stroke="#000" stroke-width="0.23" textLength="21.5" lengthAdjust="spacingAndGlyphs">U-73122</text>
<text x="36.625" y="328.85" font-size="6.2" font-weight="bold" text-anchor="middle" fill="#000" stroke="#000" stroke-width="0.19">-</text>
<text x="45.875" y="328.85" font-size="6.2" font-weight="bold" text-anchor="middle" fill="#000" stroke="#000" stroke-width="0.19">-</text>
<text x="55.375" y="328.85" font-size="6.2" font-weight="bold" text-anchor="middle" fill="#000" stroke="#000" stroke-width="0.19">-</text>
<text x="65.0" y="328.85" font-size="5.0" font-weight="bold" text-anchor="middle" fill="#000" stroke="#000" stroke-width="0.70">+</text>
<text x="74.75" y="328.85" font-size="5.0" font-weight="bold" text-anchor="middle" fill="#000" stroke="#000" stroke-width="0.70">+</text>
<text x="84.375" y="328.85" font-size="6.2" font-weight="bold" text-anchor="middle" fill="#000" stroke="#000" stroke-width="0.19">-</text>
<text x="94.0" y="328.85" font-size="6.2" font-weight="bold" text-anchor="middle" fill="#000" stroke="#000" stroke-width="0.19">-</text>
<text x="30.6" y="334.02" font-size="4.5" font-weight="bold" text-anchor="end" fill="#000" stroke="#000" stroke-width="0.23" textLength="7" lengthAdjust="spacingAndGlyphs">PA</text>
<text x="36.625" y="333.95" font-size="6.2" font-weight="bold" text-anchor="middle" fill="#000" stroke="#000" stroke-width="0.19">-</text>
<text x="45.875" y="333.95" font-size="5.0" font-weight="bold" text-anchor="middle" fill="#000" stroke="#000" stroke-width="0.70">+</text>
<text x="55.375" y="333.95" font-size="5.0" font-weight="bold" text-anchor="middle" fill="#000" stroke="#000" stroke-width="0.70">+</text>
<text x="65.0" y="333.95" font-size="6.2" font-weight="bold" text-anchor="middle" fill="#000" stroke="#000" stroke-width="0.19">-</text>
<text x="74.75" y="333.95" font-size="5.0" font-weight="bold" text-anchor="middle" fill="#000" stroke="#000" stroke-width="0.70">+</text>
<text x="84.375" y="333.95" font-size="6.2" font-weight="bold" text-anchor="middle" fill="#000" stroke="#000" stroke-width="0.19">-</text>
<text x="94.0" y="333.95" font-size="5.0" font-weight="bold" text-anchor="middle" fill="#000" stroke="#000" stroke-width="0.70">+</text>
<line x1="34.75" y1="335" x2="49.25" y2="335" stroke="#333" stroke-width="0.6"/>
<line x1="53" y1="335" x2="57.75" y2="335" stroke="#333" stroke-width="0.6"/>
<line x1="63.25" y1="335" x2="97.0" y2="335" stroke="#333" stroke-width="0.6"/>
<text x="41.25" y="339.9" font-size="3.6" font-weight="bold" text-anchor="middle" fill="#1c1c1c" stroke="#1c1c1c" stroke-width="0.13" textLength="8.8" lengthAdjust="spacingAndGlyphs">siCtrl</text>
<text x="55.375" y="344.3" font-size="3.6" font-weight="bold" text-anchor="middle" fill="#1c1c1c" stroke="#1c1c1c" stroke-width="0.13" textLength="26.4" lengthAdjust="spacingAndGlyphs">si5-HT<tspan font-size="62%" dy="0.22em">2A,2B</tspan><tspan dy="-0.14em">R</tspan></text>
<text x="78.175" y="339.9" font-size="3.6" font-weight="bold" text-anchor="middle" fill="#1c1c1c" stroke="#1c1c1c" stroke-width="0.13" textLength="8.8" lengthAdjust="spacingAndGlyphs">siCtrl</text>
<rect x="133.30" y="291.90" width="6.40" height="25.70" fill="#686868" stroke="#3c3c3c" stroke-width="0.45"/>
<line x1="136.5" y1="291.70000000000005" x2="136.5" y2="290.1" stroke="#333" stroke-width="0.5"/>
<line x1="135.0" y1="290.1" x2="138.0" y2="290.1" stroke="#333" stroke-width="0.5"/>
<rect x="142.80" y="282.19" width="6.15" height="35.41" fill="#686868" stroke="#3c3c3c" stroke-width="0.45"/>
<line x1="145.875" y1="281.9875" x2="145.875" y2="279.58750000000003" stroke="#333" stroke-width="0.5"/>
<line x1="144.375" y1="279.58750000000003" x2="147.375" y2="279.58750000000003" stroke="#333" stroke-width="0.5"/>
<rect x="152.30" y="289.59" width="6.15" height="28.01" fill="#686868" stroke="#3c3c3c" stroke-width="0.45"/>
<line x1="155.375" y1="289.38750000000005" x2="155.375" y2="288.38750000000005" stroke="#333" stroke-width="0.5"/>
<line x1="153.875" y1="288.38750000000005" x2="156.875" y2="288.38750000000005" stroke="#333" stroke-width="0.5"/>
<rect x="162.05" y="296.99" width="5.90" height="20.61" fill="#686868" stroke="#3c3c3c" stroke-width="0.45"/>
<line x1="165.0" y1="296.7875" x2="165.0" y2="294.38750000000005" stroke="#333" stroke-width="0.5"/>
<line x1="163.5" y1="294.38750000000005" x2="166.5" y2="294.38750000000005" stroke="#333" stroke-width="0.5"/>
<rect x="171.55" y="287.28" width="6.15" height="30.32" fill="#686868" stroke="#3c3c3c" stroke-width="0.45"/>
<line x1="174.625" y1="287.07500000000005" x2="174.625" y2="285.475" stroke="#333" stroke-width="0.5"/>
<line x1="173.125" y1="285.475" x2="176.125" y2="285.475" stroke="#333" stroke-width="0.5"/>
<rect x="180.80" y="290.51" width="6.40" height="27.09" fill="#686868" stroke="#3c3c3c" stroke-width="0.45"/>
<line x1="184.0" y1="290.3125" x2="184.0" y2="288.3125" stroke="#333" stroke-width="0.5"/>
<line x1="182.5" y1="288.3125" x2="185.5" y2="288.3125" stroke="#333" stroke-width="0.5"/>
<rect x="190.30" y="279.41" width="6.40" height="38.19" fill="#686868" stroke="#3c3c3c" stroke-width="0.45"/>
<line x1="193.5" y1="279.21250000000003" x2="193.5" y2="278.01250000000005" stroke="#333" stroke-width="0.5"/>
<line x1="192.0" y1="278.01250000000005" x2="195.0" y2="278.01250000000005" stroke="#333" stroke-width="0.5"/>
<line x1="131.75" y1="269.5" x2="131.75" y2="317.90000000000003" stroke="#111" stroke-width="0.8"/>
<line x1="129.95" y1="271.3" x2="131.75" y2="271.3" stroke="#111" stroke-width="0.7"/>
<text x="129.6" y="272.956" font-size="4.6" font-weight="bold" text-anchor="end" fill="#000" stroke="#000" stroke-width="0.23" textLength="7.8" lengthAdjust="spacingAndGlyphs">100</text>
<line x1="129.95" y1="280.6" x2="131.75" y2="280.6" stroke="#111" stroke-width="0.7"/>
<text x="129.6" y="282.25600000000003" font-size="4.6" font-weight="bold" text-anchor="end" fill="#000" stroke="#000" stroke-width="0.23" textLength="5.2" lengthAdjust="spacingAndGlyphs">80</text>
<line x1="129.95" y1="289.8" x2="131.75" y2="289.8" stroke="#111" stroke-width="0.7"/>
<text x="129.6" y="291.456" font-size="4.6" font-weight="bold" text-anchor="end" fill="#000" stroke="#000" stroke-width="0.23" textLength="5.2" lengthAdjust="spacingAndGlyphs">60</text>
<line x1="129.95" y1="299.1" x2="131.75" y2="299.1" stroke="#111" stroke-width="0.7"/>
<text x="129.6" y="300.75600000000003" font-size="4.6" font-weight="bold" text-anchor="end" fill="#000" stroke="#000" stroke-width="0.23" textLength="5.2" lengthAdjust="spacingAndGlyphs">40</text>
<line x1="129.95" y1="308.3" x2="131.75" y2="308.3" stroke="#111" stroke-width="0.7"/>
<text x="129.6" y="309.956" font-size="4.6" font-weight="bold" text-anchor="end" fill="#000" stroke="#000" stroke-width="0.23" textLength="5.2" lengthAdjust="spacingAndGlyphs">20</text>
<line x1="129.95" y1="317.6" x2="131.75" y2="317.6" stroke="#111" stroke-width="0.7"/>
<text x="129.6" y="319.25600000000003" font-size="4.6" font-weight="bold" text-anchor="end" fill="#000" stroke="#000" stroke-width="0.23" textLength="2.6" lengthAdjust="spacingAndGlyphs">0</text>
<line x1="131.35" y1="317.6" x2="198.3" y2="317.6" stroke="#111" stroke-width="0.8"/>
<text x="163.7" y="256.1" font-size="5.8" font-weight="bold" text-anchor="middle" fill="#000" stroke="#000" stroke-width="0.29" textLength="35" lengthAdjust="spacingAndGlyphs">IP<tspan font-size="65%" dy="0.25em">3</tspan><tspan dy="-0.16em"> in cells</tspan></text>
<text x="118.2" y="294.4" font-size="5.2" font-weight="bold" text-anchor="middle" fill="#000" stroke="#000" stroke-width="0.26" textLength="31.4" lengthAdjust="spacingAndGlyphs" transform="rotate(-90 118.2 294.4)">pg/g protein</text>
<polyline points="136.25,290.75 136.25,262.8 196.25,262.8" fill="none" stroke="#222" stroke-width="0.55"/>
<text x="146" y="264.31056" font-size="5.808000000000001" font-weight="bold" text-anchor="middle" fill="#000" stroke="#000" stroke-width="0.29" textLength="5.3433600000000006" lengthAdjust="spacingAndGlyphs">**</text>
<text x="155.5" y="264.31056" font-size="5.808000000000001" font-weight="bold" text-anchor="middle" fill="#000" stroke="#000" stroke-width="0.29">*</text>
<text x="165.25" y="264.31056" font-size="5.808000000000001" font-weight="bold" text-anchor="middle" fill="#000" stroke="#000" stroke-width="0.29" textLength="5.3433600000000006" lengthAdjust="spacingAndGlyphs">**</text>
<text x="174.5" y="264.31056" font-size="5.808000000000001" font-weight="bold" text-anchor="middle" fill="#000" stroke="#000" stroke-width="0.29">*</text>
<text x="183.5" y="262.672" font-size="4.620000000000001" font-weight="bold" text-anchor="middle" fill="#000" stroke="#000" stroke-width="0.35" textLength="5.720000000000001" lengthAdjust="spacingAndGlyphs">NS</text>
<text x="193.8" y="264.31056" font-size="5.808000000000001" font-weight="bold" text-anchor="middle" fill="#000" stroke="#000" stroke-width="0.29" textLength="5.3433600000000006" lengthAdjust="spacingAndGlyphs">**</text>
<polyline points="145.75,280 145.75,268.75 196.25,268.75" fill="none" stroke="#222" stroke-width="0.55"/>
<text x="155.25" y="270.31056" font-size="5.808000000000001" font-weight="bold" text-anchor="middle" fill="#000" stroke="#000" stroke-width="0.29" textLength="5.3433600000000006" lengthAdjust="spacingAndGlyphs">**</text>
<text x="174.5" y="270.31056" font-size="5.808000000000001" font-weight="bold" text-anchor="middle" fill="#000" stroke="#000" stroke-width="0.29" textLength="5.3433600000000006" lengthAdjust="spacingAndGlyphs">**</text>
<text x="193.5" y="268.672" font-size="4.620000000000001" font-weight="bold" text-anchor="middle" fill="#000" stroke="#000" stroke-width="0.35" textLength="5.720000000000001" lengthAdjust="spacingAndGlyphs">NS</text>
<polyline points="183.75,288.75 183.75,274.5 196.25,274.5" fill="none" stroke="#222" stroke-width="0.55"/>
<text x="193.5" y="275.91056000000003" font-size="5.808000000000001" font-weight="bold" text-anchor="middle" fill="#000" stroke="#000" stroke-width="0.29" textLength="5.3433600000000006" lengthAdjust="spacingAndGlyphs">**</text>
<polyline points="164.5,295.5 164.5,282 177.5,282" fill="none" stroke="#222" stroke-width="0.55"/>
<text x="174.5" y="283.51056" font-size="5.808000000000001" font-weight="bold" text-anchor="middle" fill="#000" stroke="#000" stroke-width="0.29" textLength="5.3433600000000006" lengthAdjust="spacingAndGlyphs">**</text>
<text x="130.4" y="323.92" font-size="4.5" font-weight="bold" text-anchor="end" fill="#000" stroke="#000" stroke-width="0.23" textLength="26.8" lengthAdjust="spacingAndGlyphs">Triacsin C</text>
<text x="136.5" y="323.85" font-size="6.2" font-weight="bold" text-anchor="middle" fill="#000" stroke="#000" stroke-width="0.19">-</text>
<text x="145.875" y="323.85" font-size="6.2" font-weight="bold" text-anchor="middle" fill="#000" stroke="#000" stroke-width="0.19">-</text>
<text x="155.375" y="323.85" font-size="6.2" font-weight="bold" text-anchor="middle" fill="#000" stroke="#000" stroke-width="0.19">-</text>
<text x="165.0" y="323.85" font-size="6.2" font-weight="bold" text-anchor="middle" fill="#000" stroke="#000" stroke-width="0.19">-</text>
<text x="174.625" y="323.85" font-size="6.2" font-weight="bold" text-anchor="middle" fill="#000" stroke="#000" stroke-width="0.19">-</text>
<text x="184.0" y="323.85" font-size="5.0" font-weight="bold" text-anchor="middle" fill="#000" stroke="#000" stroke-width="0.70">+</text>
<text x="193.5" y="323.85" font-size="5.0" font-weight="bold" text-anchor="middle" fill="#000" stroke="#000" stroke-width="0.70">+</text>
<text x="130.4" y="328.92" font-size="4.5" font-weight="bold" text-anchor="end" fill="#000" stroke="#000" stroke-width="0.23" textLength="21.5" lengthAdjust="spacingAndGlyphs">U-73122</text>
<text x="136.5" y="328.85" font-size="6.2" font-weight="bold" text-anchor="middle" fill="#000" stroke="#000" stroke-width="0.19">-</text>
<text x="145.875" y="328.85" font-size="6.2" font-weight="bold" text-anchor="middle" fill="#000" stroke="#000" stroke-width="0.19">-</text>
<text x="155.375" y="328.85" font-size="6.2" font-weight="bold" text-anchor="middle" fill="#000" stroke="#000" stroke-width="0.19">-</text>
<text x="165.0" y="328.85" font-size="5.0" font-weight="bold" text-anchor="middle" fill="#000" stroke="#000" stroke-width="0.70">+</text>
<text x="174.625" y="328.85" font-size="5.0" font-weight="bold" text-anchor="middle" fill="#000" stroke="#000" stroke-width="0.70">+</text>
<text x="184.0" y="328.85" font-size="6.2" font-weight="bold" text-anchor="middle" fill="#000" stroke="#000" stroke-width="0.19">-</text>
<text x="193.5" y="328.85" font-size="6.2" font-weight="bold" text-anchor="middle" fill="#000" stroke="#000" stroke-width="0.19">-</text>
<text x="130.4" y="334.02" font-size="4.5" font-weight="bold" text-anchor="end" fill="#000" stroke="#000" stroke-width="0.23" textLength="7" lengthAdjust="spacingAndGlyphs">PA</text>
<text x="136.5" y="333.95" font-size="6.2" font-weight="bold" text-anchor="middle" fill="#000" stroke="#000" stroke-width="0.19">-</text>
<text x="145.875" y="333.95" font-size="5.0" font-weight="bold" text-anchor="middle" fill="#000" stroke="#000" stroke-width="0.70">+</text>
<text x="155.375" y="333.95" font-size="5.0" font-weight="bold" text-anchor="middle" fill="#000" stroke="#000" stroke-width="0.70">+</text>
<text x="165.0" y="333.95" font-size="6.2" font-weight="bold" text-anchor="middle" fill="#000" stroke="#000" stroke-width="0.19">-</text>
<text x="174.625" y="333.95" font-size="5.0" font-weight="bold" text-anchor="middle" fill="#000" stroke="#000" stroke-width="0.70">+</text>
<text x="184.0" y="333.95" font-size="6.2" font-weight="bold" text-anchor="middle" fill="#000" stroke="#000" stroke-width="0.19">-</text>
<text x="193.5" y="333.95" font-size="5.0" font-weight="bold" text-anchor="middle" fill="#000" stroke="#000" stroke-width="0.70">+</text>
<line x1="134.5" y1="335" x2="149.25" y2="335" stroke="#333" stroke-width="0.6"/>
<line x1="153" y1="335" x2="157.75" y2="335" stroke="#333" stroke-width="0.6"/>
<line x1="163.25" y1="335" x2="196.5" y2="335" stroke="#333" stroke-width="0.6"/>
<text x="141.125" y="339.9" font-size="3.6" font-weight="bold" text-anchor="middle" fill="#1c1c1c" stroke="#1c1c1c" stroke-width="0.13" textLength="8.8" lengthAdjust="spacingAndGlyphs">siCtrl</text>
<text x="155.375" y="344.3" font-size="3.6" font-weight="bold" text-anchor="middle" fill="#1c1c1c" stroke="#1c1c1c" stroke-width="0.13" textLength="26.4" lengthAdjust="spacingAndGlyphs">si5-HT<tspan font-size="62%" dy="0.22em">2A,2B</tspan><tspan dy="-0.14em">R</tspan></text>
<text x="178.175" y="339.9" font-size="3.6" font-weight="bold" text-anchor="middle" fill="#1c1c1c" stroke="#1c1c1c" stroke-width="0.13" textLength="8.8" lengthAdjust="spacingAndGlyphs">siCtrl</text>
<rect x="233.30" y="297.82" width="6.40" height="19.78" fill="#686868" stroke="#3c3c3c" stroke-width="0.45"/>
<line x1="236.5" y1="297.625" x2="236.5" y2="296.825" stroke="#333" stroke-width="0.5"/>
<line x1="235.0" y1="296.825" x2="238.0" y2="296.825" stroke="#333" stroke-width="0.5"/>
<rect x="242.80" y="286.07" width="6.40" height="31.53" fill="#686868" stroke="#3c3c3c" stroke-width="0.45"/>
<line x1="246.0" y1="285.875" x2="246.0" y2="284.075" stroke="#333" stroke-width="0.5"/>
<line x1="244.5" y1="284.075" x2="247.5" y2="284.075" stroke="#333" stroke-width="0.5"/>
<rect x="252.30" y="295.48" width="6.15" height="22.12" fill="#686868" stroke="#3c3c3c" stroke-width="0.45"/>
<line x1="255.375" y1="295.27500000000003" x2="255.375" y2="294.27500000000003" stroke="#333" stroke-width="0.5"/>
<line x1="253.875" y1="294.27500000000003" x2="256.875" y2="294.27500000000003" stroke="#333" stroke-width="0.5"/>
<rect x="261.55" y="300.76" width="6.40" height="16.84" fill="#686868" stroke="#3c3c3c" stroke-width="0.45"/>
<line x1="264.75" y1="300.5625" x2="264.75" y2="299.7625" stroke="#333" stroke-width="0.5"/>
<line x1="263.25" y1="299.7625" x2="266.25" y2="299.7625" stroke="#333" stroke-width="0.5"/>
<rect x="271.05" y="291.36" width="6.65" height="26.24" fill="#686868" stroke="#3c3c3c" stroke-width="0.45"/>
<line x1="274.375" y1="291.1625" x2="274.375" y2="289.96250000000003" stroke="#333" stroke-width="0.5"/>
<line x1="272.875" y1="289.96250000000003" x2="275.875" y2="289.96250000000003" stroke="#333" stroke-width="0.5"/>
<rect x="281.05" y="304.52" width="6.15" height="13.08" fill="#686868" stroke="#3c3c3c" stroke-width="0.45"/>
<line x1="284.125" y1="304.32250000000005" x2="284.125" y2="303.52250000000004" stroke="#333" stroke-width="0.5"/>
<line x1="282.625" y1="303.52250000000004" x2="285.625" y2="303.52250000000004" stroke="#333" stroke-width="0.5"/>
<rect x="290.80" y="294.30" width="6.40" height="23.30" fill="#686868" stroke="#3c3c3c" stroke-width="0.45"/>
<line x1="294.0" y1="294.1" x2="294.0" y2="292.1" stroke="#333" stroke-width="0.5"/>
<line x1="292.5" y1="292.1" x2="295.5" y2="292.1" stroke="#333" stroke-width="0.5"/>
<line x1="231.75" y1="269" x2="231.75" y2="317.90000000000003" stroke="#111" stroke-width="0.8"/>
<line x1="229.95" y1="270.6" x2="231.75" y2="270.6" stroke="#111" stroke-width="0.7"/>
<text x="229.4" y="272.25600000000003" font-size="4.6" font-weight="bold" text-anchor="end" fill="#000" stroke="#000" stroke-width="0.23" textLength="8.8" lengthAdjust="spacingAndGlyphs">0.4</text>
<line x1="229.95" y1="282.3" x2="231.75" y2="282.3" stroke="#111" stroke-width="0.7"/>
<text x="229.4" y="283.956" font-size="4.6" font-weight="bold" text-anchor="end" fill="#000" stroke="#000" stroke-width="0.23" textLength="8.8" lengthAdjust="spacingAndGlyphs">0.3</text>
<line x1="229.95" y1="294.1" x2="231.75" y2="294.1" stroke="#111" stroke-width="0.7"/>
<text x="229.4" y="295.75600000000003" font-size="4.6" font-weight="bold" text-anchor="end" fill="#000" stroke="#000" stroke-width="0.23" textLength="8.8" lengthAdjust="spacingAndGlyphs">0.2</text>
<line x1="229.95" y1="305.8" x2="231.75" y2="305.8" stroke="#111" stroke-width="0.7"/>
<text x="229.4" y="307.456" font-size="4.6" font-weight="bold" text-anchor="end" fill="#000" stroke="#000" stroke-width="0.23" textLength="8.8" lengthAdjust="spacingAndGlyphs">0.1</text>
<line x1="229.95" y1="317.6" x2="231.75" y2="317.6" stroke="#111" stroke-width="0.7"/>
<text x="229.4" y="319.25600000000003" font-size="4.6" font-weight="bold" text-anchor="end" fill="#000" stroke="#000" stroke-width="0.23" textLength="8.8" lengthAdjust="spacingAndGlyphs">0.0</text>
<line x1="231.35" y1="317.6" x2="298.3" y2="317.6" stroke="#111" stroke-width="0.8"/>
<text x="265.4" y="260.1" font-size="6.0" font-weight="bold" text-anchor="middle" fill="#000" stroke="#000" stroke-width="0.30" textLength="36.75" lengthAdjust="spacingAndGlyphs">TG in cells</text>
<text x="217.5" y="293.2" font-size="5.2" font-weight="bold" text-anchor="middle" fill="#000" stroke="#000" stroke-width="0.26" textLength="41.25" lengthAdjust="spacingAndGlyphs" transform="rotate(-90 217.5 293.2)">mmol/g protein</text>
<polyline points="236.25,296.25 236.25,267 296.25,267" fill="none" stroke="#222" stroke-width="0.55"/>
<text x="246" y="268.31056" font-size="5.808000000000001" font-weight="bold" text-anchor="middle" fill="#000" stroke="#000" stroke-width="0.29" textLength="5.3433600000000006" lengthAdjust="spacingAndGlyphs">**</text>
<text x="255.5" y="268.31056" font-size="5.808000000000001" font-weight="bold" text-anchor="middle" fill="#000" stroke="#000" stroke-width="0.29">*</text>
<text x="265" y="268.31056" font-size="5.808000000000001" font-weight="bold" text-anchor="middle" fill="#000" stroke="#000" stroke-width="0.29">*</text>
<text x="274.75" y="268.31056" font-size="5.808000000000001" font-weight="bold" text-anchor="middle" fill="#000" stroke="#000" stroke-width="0.29" textLength="5.3433600000000006" lengthAdjust="spacingAndGlyphs">**</text>
<text x="284" y="268.31056" font-size="5.808000000000001" font-weight="bold" text-anchor="middle" fill="#000" stroke="#000" stroke-width="0.29" textLength="5.3433600000000006" lengthAdjust="spacingAndGlyphs">**</text>
<text x="294.25" y="268.31056" font-size="5.808000000000001" font-weight="bold" text-anchor="middle" fill="#000" stroke="#000" stroke-width="0.29">*</text>
<polyline points="245.75,284.5 245.75,275 296.25,275" fill="none" stroke="#222" stroke-width="0.55"/>
<text x="255.25" y="276.56056" font-size="5.808000000000001" font-weight="bold" text-anchor="middle" fill="#000" stroke="#000" stroke-width="0.29" textLength="5.3433600000000006" lengthAdjust="spacingAndGlyphs">**</text>
<text x="274.75" y="276.56056" font-size="5.808000000000001" font-weight="bold" text-anchor="middle" fill="#000" stroke="#000" stroke-width="0.29" textLength="5.3433600000000006" lengthAdjust="spacingAndGlyphs">**</text>
<text x="294" y="276.56056" font-size="5.808000000000001" font-weight="bold" text-anchor="middle" fill="#000" stroke="#000" stroke-width="0.29" textLength="5.3433600000000006" lengthAdjust="spacingAndGlyphs">**</text>
<polyline points="264.5,299.5 264.5,287 277,287" fill="none" stroke="#222" stroke-width="0.55"/>
<text x="274.75" y="288.31056" font-size="5.808000000000001" font-weight="bold" text-anchor="middle" fill="#000" stroke="#000" stroke-width="0.29" textLength="5.3433600000000006" lengthAdjust="spacingAndGlyphs">**</text>
<polyline points="284.25,303 284.25,288.75 296.25,288.75" fill="none" stroke="#222" stroke-width="0.55"/>
<text x="294" y="290.06056" font-size="5.808000000000001" font-weight="bold" text-anchor="middle" fill="#000" stroke="#000" stroke-width="0.29" textLength="5.3433600000000006" lengthAdjust="spacingAndGlyphs">**</text>
<text x="230.4" y="323.92" font-size="4.5" font-weight="bold" text-anchor="end" fill="#000" stroke="#000" stroke-width="0.23" textLength="26.2" lengthAdjust="spacingAndGlyphs">Triacsin C</text>
<text x="236.5" y="323.85" font-size="6.2" font-weight="bold" text-anchor="middle" fill="#000" stroke="#000" stroke-width="0.19">-</text>
<text x="246.0" y="323.85" font-size="6.2" font-weight="bold" text-anchor="middle" fill="#000" stroke="#000" stroke-width="0.19">-</text>
<text x="255.375" y="323.85" font-size="6.2" font-weight="bold" text-anchor="middle" fill="#000" stroke="#000" stroke-width="0.19">-</text>
<text x="264.75" y="323.85" font-size="6.2" font-weight="bold" text-anchor="middle" fill="#000" stroke="#000" stroke-width="0.19">-</text>
<text x="274.375" y="323.85" font-size="6.2" font-weight="bold" text-anchor="middle" fill="#000" stroke="#000" stroke-width="0.19">-</text>
<text x="284.125" y="323.85" font-size="5.0" font-weight="bold" text-anchor="middle" fill="#000" stroke="#000" stroke-width="0.70">+</text>
<text x="294.0" y="323.85" font-size="5.0" font-weight="bold" text-anchor="middle" fill="#000" stroke="#000" stroke-width="0.70">+</text>
<text x="230.4" y="328.92" font-size="4.5" font-weight="bold" text-anchor="end" fill="#000" stroke="#000" stroke-width="0.23" textLength="21.5" lengthAdjust="spacingAndGlyphs">U-73122</text>
<text x="236.5" y="328.85" font-size="6.2" font-weight="bold" text-anchor="middle" fill="#000" stroke="#000" stroke-width="0.19">-</text>
<text x="246.0" y="328.85" font-size="6.2" font-weight="bold" text-anchor="middle" fill="#000" stroke="#000" stroke-width="0.19">-</text>
<text x="255.375" y="328.85" font-size="6.2" font-weight="bold" text-anchor="middle" fill="#000" stroke="#000" stroke-width="0.19">-</text>
<text x="264.75" y="328.85" font-size="5.0" font-weight="bold" text-anchor="middle" fill="#000" stroke="#000" stroke-width="0.70">+</text>
<text x="274.375" y="328.85" font-size="5.0" font-weight="bold" text-anchor="middle" fill="#000" stroke="#000" stroke-width="0.70">+</text>
<text x="284.125" y="328.85" font-size="6.2" font-weight="bold" text-anchor="middle" fill="#000" stroke="#000" stroke-width="0.19">-</text>
<text x="294.0" y="328.85" font-size="6.2" font-weight="bold" text-anchor="middle" fill="#000" stroke="#000" stroke-width="0.19">-</text>
<text x="230.4" y="334.02" font-size="4.5" font-weight="bold" text-anchor="end" fill="#000" stroke="#000" stroke-width="0.23" textLength="7" lengthAdjust="spacingAndGlyphs">PA</text>
<text x="236.5" y="333.95" font-size="6.2" font-weight="bold" text-anchor="middle" fill="#000" stroke="#000" stroke-width="0.19">-</text>
<text x="246.0" y="333.95" font-size="5.0" font-weight="bold" text-anchor="middle" fill="#000" stroke="#000" stroke-width="0.70">+</text>
<text x="255.375" y="333.95" font-size="5.0" font-weight="bold" text-anchor="middle" fill="#000" stroke="#000" stroke-width="0.70">+</text>
<text x="264.75" y="333.95" font-size="6.2" font-weight="bold" text-anchor="middle" fill="#000" stroke="#000" stroke-width="0.19">-</text>
<text x="274.375" y="333.95" font-size="5.0" font-weight="bold" text-anchor="middle" fill="#000" stroke="#000" stroke-width="0.70">+</text>
<text x="284.125" y="333.95" font-size="6.2" font-weight="bold" text-anchor="middle" fill="#000" stroke="#000" stroke-width="0.19">-</text>
<text x="294.0" y="333.95" font-size="5.0" font-weight="bold" text-anchor="middle" fill="#000" stroke="#000" stroke-width="0.70">+</text>
<line x1="234.5" y1="335" x2="249.5" y2="335" stroke="#333" stroke-width="0.6"/>
<line x1="253" y1="335" x2="257.75" y2="335" stroke="#333" stroke-width="0.6"/>
<line x1="262.75" y1="335" x2="297.0" y2="335" stroke="#333" stroke-width="0.6"/>
<text x="241.25" y="339.9" font-size="3.6" font-weight="bold" text-anchor="middle" fill="#1c1c1c" stroke="#1c1c1c" stroke-width="0.13" textLength="8.8" lengthAdjust="spacingAndGlyphs">siCtrl</text>
<text x="255.375" y="344.3" font-size="3.6" font-weight="bold" text-anchor="middle" fill="#1c1c1c" stroke="#1c1c1c" stroke-width="0.13" textLength="26.4" lengthAdjust="spacingAndGlyphs">si5-HT<tspan font-size="62%" dy="0.22em">2A,2B</tspan><tspan dy="-0.14em">R</tspan></text>
<text x="277.925" y="339.9" font-size="3.6" font-weight="bold" text-anchor="middle" fill="#1c1c1c" stroke="#1c1c1c" stroke-width="0.13" textLength="8.8" lengthAdjust="spacingAndGlyphs">siCtrl</text>
</g></svg></body></html>
